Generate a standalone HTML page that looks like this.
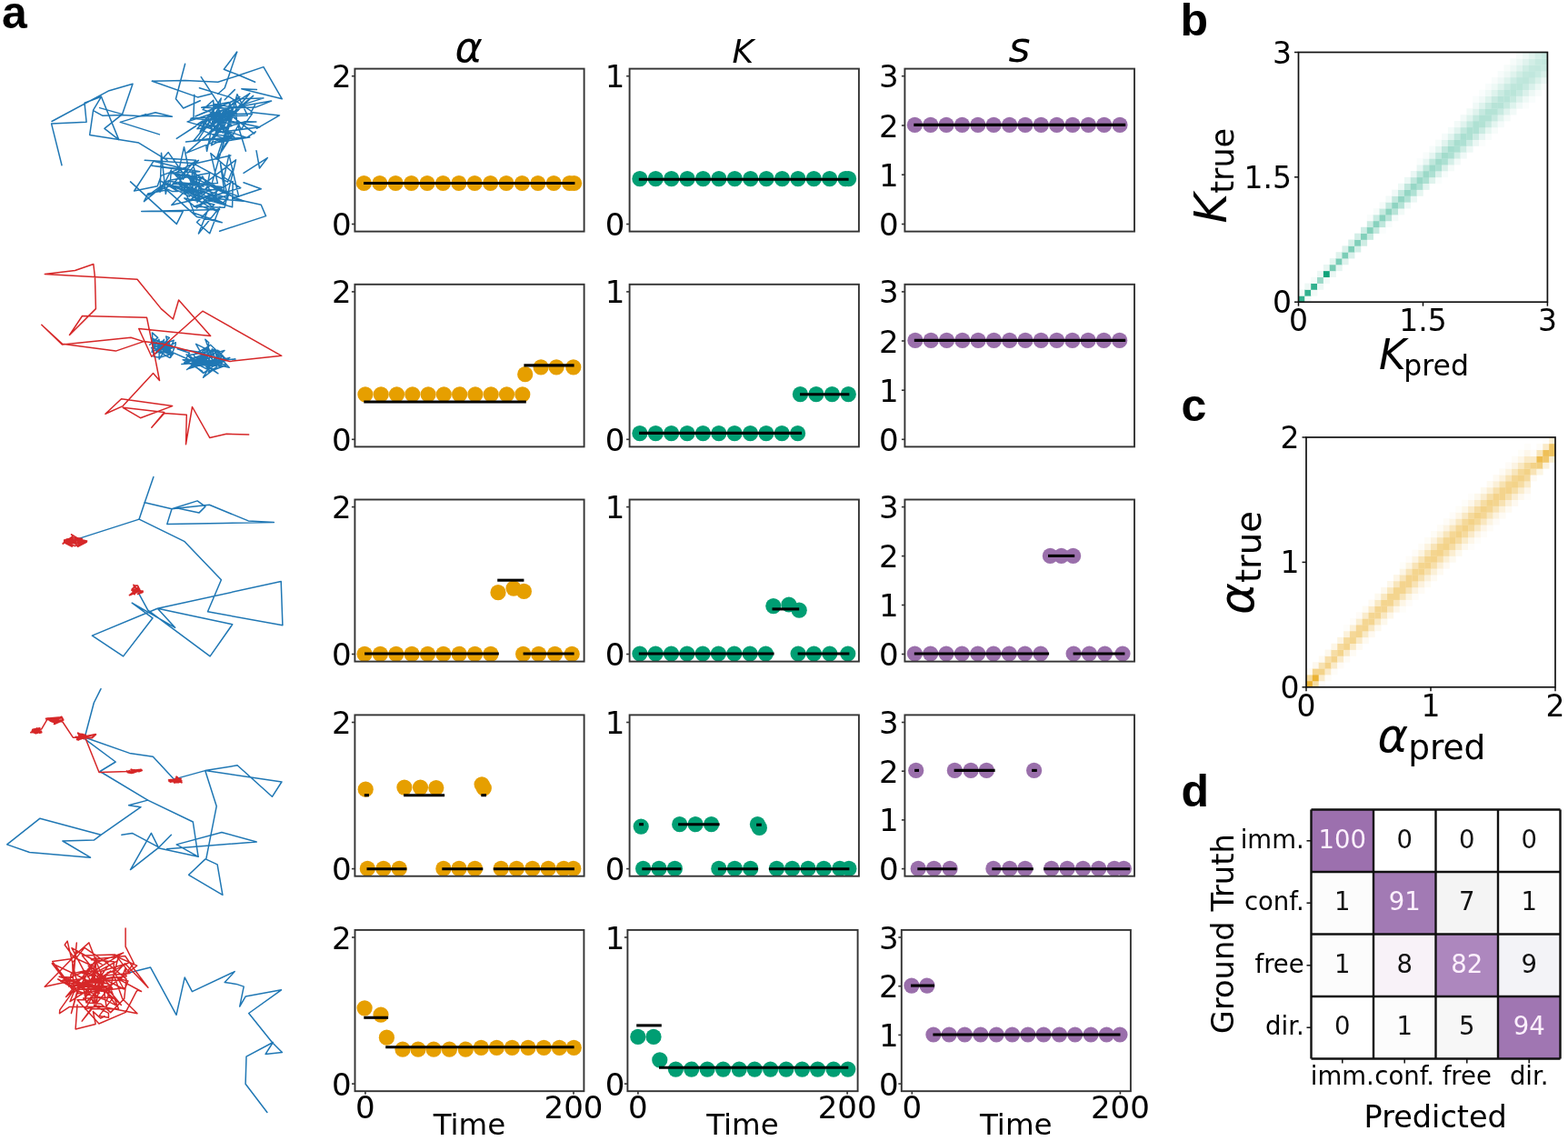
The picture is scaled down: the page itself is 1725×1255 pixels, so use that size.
<!DOCTYPE html>
<html><head><meta charset="utf-8"><title>figure</title>
<style>
html,body{margin:0;padding:0;background:#fff;}
svg{display:block;font-family:"DejaVu Sans","Liberation Sans",sans-serif;}
</style></head>
<body>
<svg width="1725" height="1255" viewBox="0 0 1725 1255">
<rect width="1725" height="1255" fill="#fff"/>
<circle cx="400.4" cy="201.5" r="8.6" fill="#E69F00"/>
<circle cx="417.8" cy="201.5" r="8.6" fill="#E69F00"/>
<circle cx="435.2" cy="201.5" r="8.6" fill="#E69F00"/>
<circle cx="452.6" cy="201.5" r="8.6" fill="#E69F00"/>
<circle cx="470.0" cy="201.5" r="8.6" fill="#E69F00"/>
<circle cx="487.4" cy="201.5" r="8.6" fill="#E69F00"/>
<circle cx="504.8" cy="201.5" r="8.6" fill="#E69F00"/>
<circle cx="522.2" cy="201.5" r="8.6" fill="#E69F00"/>
<circle cx="539.6" cy="201.5" r="8.6" fill="#E69F00"/>
<circle cx="557.0" cy="201.5" r="8.6" fill="#E69F00"/>
<circle cx="574.4" cy="201.5" r="8.6" fill="#E69F00"/>
<circle cx="591.8" cy="201.5" r="8.6" fill="#E69F00"/>
<circle cx="609.2" cy="201.5" r="8.6" fill="#E69F00"/>
<circle cx="626.6" cy="201.5" r="8.6" fill="#E69F00"/>
<circle cx="631.6" cy="201.5" r="8.6" fill="#E69F00"/>
<line x1="400.0" y1="201.5" x2="632.4" y2="201.5" stroke="#000" stroke-width="3.1"/>
<rect x="390.4" y="75.6" width="252.2" height="179.0" fill="none" stroke="#333333" stroke-width="1.9"/>
<line x1="386.9" y1="83.7" x2="390.4" y2="83.7" stroke="#333333" stroke-width="1.6"/>
<text x="386.6" y="96.2" font-size="34" text-anchor="end" >2</text>
<line x1="386.9" y1="246.5" x2="390.4" y2="246.5" stroke="#333333" stroke-width="1.6"/>
<text x="386.6" y="259.0" font-size="34" text-anchor="end" >0</text>
<circle cx="703.9" cy="196.7" r="8.6" fill="#009E73"/>
<circle cx="721.3" cy="196.7" r="8.6" fill="#009E73"/>
<circle cx="738.7" cy="196.7" r="8.6" fill="#009E73"/>
<circle cx="756.1" cy="196.7" r="8.6" fill="#009E73"/>
<circle cx="773.5" cy="196.7" r="8.6" fill="#009E73"/>
<circle cx="790.9" cy="196.7" r="8.6" fill="#009E73"/>
<circle cx="808.3" cy="196.7" r="8.6" fill="#009E73"/>
<circle cx="825.7" cy="196.7" r="8.6" fill="#009E73"/>
<circle cx="843.1" cy="196.7" r="8.6" fill="#009E73"/>
<circle cx="860.5" cy="196.7" r="8.6" fill="#009E73"/>
<circle cx="877.9" cy="196.7" r="8.6" fill="#009E73"/>
<circle cx="895.3" cy="196.7" r="8.6" fill="#009E73"/>
<circle cx="912.7" cy="196.7" r="8.6" fill="#009E73"/>
<circle cx="930.1" cy="196.7" r="8.6" fill="#009E73"/>
<circle cx="933.6" cy="196.7" r="8.6" fill="#009E73"/>
<line x1="702.8" y1="197.2" x2="933.6" y2="197.2" stroke="#000" stroke-width="3.1"/>
<rect x="692.6" y="75.6" width="252.3" height="179.0" fill="none" stroke="#333333" stroke-width="1.9"/>
<line x1="689.1" y1="83.7" x2="692.6" y2="83.7" stroke="#333333" stroke-width="1.6"/>
<text x="687.3" y="96.2" font-size="34" text-anchor="end" >1</text>
<line x1="689.1" y1="246.5" x2="692.6" y2="246.5" stroke="#333333" stroke-width="1.6"/>
<text x="687.3" y="259.0" font-size="34" text-anchor="end" >0</text>
<circle cx="1006.4" cy="137.4" r="8.6" fill="#9a6fab"/>
<circle cx="1023.8" cy="137.4" r="8.6" fill="#9a6fab"/>
<circle cx="1041.1" cy="137.4" r="8.6" fill="#9a6fab"/>
<circle cx="1058.5" cy="137.4" r="8.6" fill="#9a6fab"/>
<circle cx="1075.8" cy="137.4" r="8.6" fill="#9a6fab"/>
<circle cx="1093.2" cy="137.4" r="8.6" fill="#9a6fab"/>
<circle cx="1110.6" cy="137.4" r="8.6" fill="#9a6fab"/>
<circle cx="1127.9" cy="137.4" r="8.6" fill="#9a6fab"/>
<circle cx="1145.3" cy="137.4" r="8.6" fill="#9a6fab"/>
<circle cx="1162.6" cy="137.4" r="8.6" fill="#9a6fab"/>
<circle cx="1180.0" cy="137.4" r="8.6" fill="#9a6fab"/>
<circle cx="1197.3" cy="137.4" r="8.6" fill="#9a6fab"/>
<circle cx="1214.7" cy="137.4" r="8.6" fill="#9a6fab"/>
<circle cx="1232.0" cy="137.4" r="8.6" fill="#9a6fab"/>
<line x1="1005.3" y1="137.4" x2="1238.2" y2="137.4" stroke="#000" stroke-width="3.1"/>
<rect x="995.4" y="75.6" width="252.6" height="179.0" fill="none" stroke="#333333" stroke-width="1.9"/>
<line x1="991.9" y1="83.7" x2="995.4" y2="83.7" stroke="#333333" stroke-width="1.6"/>
<text x="988.6" y="96.2" font-size="34" text-anchor="end" >3</text>
<line x1="991.9" y1="138.0" x2="995.4" y2="138.0" stroke="#333333" stroke-width="1.6"/>
<text x="988.6" y="150.5" font-size="34" text-anchor="end" >2</text>
<line x1="991.9" y1="192.2" x2="995.4" y2="192.2" stroke="#333333" stroke-width="1.6"/>
<text x="988.6" y="204.7" font-size="34" text-anchor="end" >1</text>
<line x1="991.9" y1="246.5" x2="995.4" y2="246.5" stroke="#333333" stroke-width="1.6"/>
<text x="988.6" y="259.0" font-size="34" text-anchor="end" >0</text>
<circle cx="401.9" cy="433.9" r="8.6" fill="#E69F00"/>
<circle cx="419.2" cy="433.9" r="8.6" fill="#E69F00"/>
<circle cx="436.5" cy="433.9" r="8.6" fill="#E69F00"/>
<circle cx="453.8" cy="433.9" r="8.6" fill="#E69F00"/>
<circle cx="471.1" cy="433.9" r="8.6" fill="#E69F00"/>
<circle cx="488.3" cy="433.9" r="8.6" fill="#E69F00"/>
<circle cx="505.6" cy="433.9" r="8.6" fill="#E69F00"/>
<circle cx="522.9" cy="433.9" r="8.6" fill="#E69F00"/>
<circle cx="540.2" cy="433.9" r="8.6" fill="#E69F00"/>
<circle cx="557.5" cy="433.9" r="8.6" fill="#E69F00"/>
<circle cx="574.8" cy="433.9" r="8.6" fill="#E69F00"/>
<circle cx="577.7" cy="411.7" r="8.6" fill="#E69F00"/>
<circle cx="595.1" cy="403.9" r="8.6" fill="#E69F00"/>
<circle cx="612.1" cy="403.9" r="8.6" fill="#E69F00"/>
<circle cx="630.8" cy="403.9" r="8.6" fill="#E69F00"/>
<line x1="400.3" y1="442.0" x2="578.8" y2="442.0" stroke="#000" stroke-width="3.1"/>
<line x1="576.4" y1="401.9" x2="631.6" y2="401.9" stroke="#000" stroke-width="3.1"/>
<rect x="390.4" y="312.8" width="252.2" height="178.6" fill="none" stroke="#333333" stroke-width="1.9"/>
<line x1="386.9" y1="320.9" x2="390.4" y2="320.9" stroke="#333333" stroke-width="1.6"/>
<text x="386.6" y="333.4" font-size="34" text-anchor="end" >2</text>
<line x1="386.9" y1="483.3" x2="390.4" y2="483.3" stroke="#333333" stroke-width="1.6"/>
<text x="386.6" y="495.8" font-size="34" text-anchor="end" >0</text>
<circle cx="703.9" cy="476.7" r="8.6" fill="#009E73"/>
<circle cx="721.3" cy="476.7" r="8.6" fill="#009E73"/>
<circle cx="738.6" cy="476.7" r="8.6" fill="#009E73"/>
<circle cx="756.0" cy="476.7" r="8.6" fill="#009E73"/>
<circle cx="773.4" cy="476.7" r="8.6" fill="#009E73"/>
<circle cx="790.8" cy="476.7" r="8.6" fill="#009E73"/>
<circle cx="808.1" cy="476.7" r="8.6" fill="#009E73"/>
<circle cx="825.5" cy="476.7" r="8.6" fill="#009E73"/>
<circle cx="842.9" cy="476.7" r="8.6" fill="#009E73"/>
<circle cx="860.2" cy="476.7" r="8.6" fill="#009E73"/>
<circle cx="877.6" cy="476.7" r="8.6" fill="#009E73"/>
<circle cx="880.4" cy="433.7" r="8.6" fill="#009E73"/>
<circle cx="897.9" cy="433.7" r="8.6" fill="#009E73"/>
<circle cx="915.4" cy="433.7" r="8.6" fill="#009E73"/>
<circle cx="933.3" cy="433.7" r="8.6" fill="#009E73"/>
<line x1="703.1" y1="476.4" x2="882.0" y2="476.4" stroke="#000" stroke-width="3.1"/>
<line x1="880.0" y1="433.7" x2="934.4" y2="433.7" stroke="#000" stroke-width="3.1"/>
<rect x="692.6" y="312.8" width="252.3" height="178.6" fill="none" stroke="#333333" stroke-width="1.9"/>
<line x1="689.1" y1="320.9" x2="692.6" y2="320.9" stroke="#333333" stroke-width="1.6"/>
<text x="687.3" y="333.4" font-size="34" text-anchor="end" >1</text>
<line x1="689.1" y1="483.3" x2="692.6" y2="483.3" stroke="#333333" stroke-width="1.6"/>
<text x="687.3" y="495.8" font-size="34" text-anchor="end" >0</text>
<circle cx="1006.9" cy="374.4" r="8.6" fill="#9a6fab"/>
<circle cx="1024.2" cy="374.4" r="8.6" fill="#9a6fab"/>
<circle cx="1041.5" cy="374.4" r="8.6" fill="#9a6fab"/>
<circle cx="1058.8" cy="374.4" r="8.6" fill="#9a6fab"/>
<circle cx="1076.1" cy="374.4" r="8.6" fill="#9a6fab"/>
<circle cx="1093.4" cy="374.4" r="8.6" fill="#9a6fab"/>
<circle cx="1110.7" cy="374.4" r="8.6" fill="#9a6fab"/>
<circle cx="1128.0" cy="374.4" r="8.6" fill="#9a6fab"/>
<circle cx="1145.3" cy="374.4" r="8.6" fill="#9a6fab"/>
<circle cx="1162.6" cy="374.4" r="8.6" fill="#9a6fab"/>
<circle cx="1179.8" cy="374.4" r="8.6" fill="#9a6fab"/>
<circle cx="1197.1" cy="374.4" r="8.6" fill="#9a6fab"/>
<circle cx="1214.4" cy="374.4" r="8.6" fill="#9a6fab"/>
<circle cx="1231.7" cy="374.4" r="8.6" fill="#9a6fab"/>
<line x1="1005.8" y1="374.4" x2="1238.2" y2="374.4" stroke="#000" stroke-width="3.1"/>
<rect x="995.4" y="312.8" width="252.6" height="178.6" fill="none" stroke="#333333" stroke-width="1.9"/>
<line x1="991.9" y1="320.9" x2="995.4" y2="320.9" stroke="#333333" stroke-width="1.6"/>
<text x="988.6" y="333.4" font-size="34" text-anchor="end" >3</text>
<line x1="991.9" y1="375.0" x2="995.4" y2="375.0" stroke="#333333" stroke-width="1.6"/>
<text x="988.6" y="387.5" font-size="34" text-anchor="end" >2</text>
<line x1="991.9" y1="429.2" x2="995.4" y2="429.2" stroke="#333333" stroke-width="1.6"/>
<text x="988.6" y="441.7" font-size="34" text-anchor="end" >1</text>
<line x1="991.9" y1="483.3" x2="995.4" y2="483.3" stroke="#333333" stroke-width="1.6"/>
<text x="988.6" y="495.8" font-size="34" text-anchor="end" >0</text>
<circle cx="401.1" cy="719.4" r="8.6" fill="#E69F00"/>
<circle cx="418.4" cy="719.4" r="8.6" fill="#E69F00"/>
<circle cx="435.8" cy="719.4" r="8.6" fill="#E69F00"/>
<circle cx="453.1" cy="719.4" r="8.6" fill="#E69F00"/>
<circle cx="470.5" cy="719.4" r="8.6" fill="#E69F00"/>
<circle cx="487.8" cy="719.4" r="8.6" fill="#E69F00"/>
<circle cx="505.2" cy="719.4" r="8.6" fill="#E69F00"/>
<circle cx="522.5" cy="719.4" r="8.6" fill="#E69F00"/>
<circle cx="539.9" cy="719.4" r="8.6" fill="#E69F00"/>
<circle cx="548.0" cy="651.7" r="8.6" fill="#E69F00"/>
<circle cx="565.0" cy="647.1" r="8.6" fill="#E69F00"/>
<circle cx="576.4" cy="650.4" r="8.6" fill="#E69F00"/>
<circle cx="575.6" cy="719.4" r="8.6" fill="#E69F00"/>
<circle cx="592.6" cy="719.4" r="8.6" fill="#E69F00"/>
<circle cx="610.5" cy="719.4" r="8.6" fill="#E69F00"/>
<circle cx="629.2" cy="719.4" r="8.6" fill="#E69F00"/>
<line x1="401.1" y1="719.0" x2="548.8" y2="719.0" stroke="#000" stroke-width="3.1"/>
<line x1="547.2" y1="638.2" x2="576.4" y2="638.2" stroke="#000" stroke-width="3.1"/>
<line x1="575.6" y1="719.0" x2="631.6" y2="719.0" stroke="#000" stroke-width="3.1"/>
<rect x="390.4" y="549.5" width="252.2" height="178.1" fill="none" stroke="#333333" stroke-width="1.9"/>
<line x1="386.9" y1="557.6" x2="390.4" y2="557.6" stroke="#333333" stroke-width="1.6"/>
<text x="386.6" y="570.1" font-size="34" text-anchor="end" >2</text>
<line x1="386.9" y1="719.5" x2="390.4" y2="719.5" stroke="#333333" stroke-width="1.6"/>
<text x="386.6" y="732.0" font-size="34" text-anchor="end" >0</text>
<circle cx="703.9" cy="719.0" r="8.6" fill="#009E73"/>
<circle cx="721.2" cy="719.0" r="8.6" fill="#009E73"/>
<circle cx="738.5" cy="719.0" r="8.6" fill="#009E73"/>
<circle cx="755.8" cy="719.0" r="8.6" fill="#009E73"/>
<circle cx="773.1" cy="719.0" r="8.6" fill="#009E73"/>
<circle cx="790.4" cy="719.0" r="8.6" fill="#009E73"/>
<circle cx="807.8" cy="719.0" r="8.6" fill="#009E73"/>
<circle cx="825.1" cy="719.0" r="8.6" fill="#009E73"/>
<circle cx="842.4" cy="719.0" r="8.6" fill="#009E73"/>
<circle cx="850.8" cy="666.6" r="8.6" fill="#009E73"/>
<circle cx="867.9" cy="665.0" r="8.6" fill="#009E73"/>
<circle cx="879.2" cy="671.2" r="8.6" fill="#009E73"/>
<circle cx="878.1" cy="719.0" r="8.6" fill="#009E73"/>
<circle cx="895.4" cy="719.0" r="8.6" fill="#009E73"/>
<circle cx="912.8" cy="719.0" r="8.6" fill="#009E73"/>
<circle cx="932.8" cy="719.0" r="8.6" fill="#009E73"/>
<line x1="702.8" y1="719.0" x2="851.6" y2="719.0" stroke="#000" stroke-width="3.1"/>
<line x1="849.5" y1="669.9" x2="879.2" y2="669.9" stroke="#000" stroke-width="3.1"/>
<line x1="877.6" y1="719.0" x2="934.4" y2="719.0" stroke="#000" stroke-width="3.1"/>
<rect x="692.6" y="549.5" width="252.3" height="178.1" fill="none" stroke="#333333" stroke-width="1.9"/>
<line x1="689.1" y1="557.6" x2="692.6" y2="557.6" stroke="#333333" stroke-width="1.6"/>
<text x="687.3" y="570.1" font-size="34" text-anchor="end" >1</text>
<line x1="689.1" y1="719.5" x2="692.6" y2="719.5" stroke="#333333" stroke-width="1.6"/>
<text x="687.3" y="732.0" font-size="34" text-anchor="end" >0</text>
<circle cx="1006.4" cy="719.0" r="8.6" fill="#9a6fab"/>
<circle cx="1023.7" cy="719.0" r="8.6" fill="#9a6fab"/>
<circle cx="1041.0" cy="719.0" r="8.6" fill="#9a6fab"/>
<circle cx="1058.3" cy="719.0" r="8.6" fill="#9a6fab"/>
<circle cx="1075.7" cy="719.0" r="8.6" fill="#9a6fab"/>
<circle cx="1093.0" cy="719.0" r="8.6" fill="#9a6fab"/>
<circle cx="1110.3" cy="719.0" r="8.6" fill="#9a6fab"/>
<circle cx="1127.6" cy="719.0" r="8.6" fill="#9a6fab"/>
<circle cx="1144.9" cy="719.0" r="8.6" fill="#9a6fab"/>
<circle cx="1155.4" cy="611.4" r="8.6" fill="#9a6fab"/>
<circle cx="1167.6" cy="611.4" r="8.6" fill="#9a6fab"/>
<circle cx="1180.6" cy="611.4" r="8.6" fill="#9a6fab"/>
<circle cx="1181.1" cy="719.0" r="8.6" fill="#9a6fab"/>
<circle cx="1198.4" cy="719.0" r="8.6" fill="#9a6fab"/>
<circle cx="1215.5" cy="719.0" r="8.6" fill="#9a6fab"/>
<circle cx="1235.0" cy="719.0" r="8.6" fill="#9a6fab"/>
<line x1="1005.8" y1="719.0" x2="1154.1" y2="719.0" stroke="#000" stroke-width="3.1"/>
<line x1="1153.0" y1="611.4" x2="1182.2" y2="611.4" stroke="#000" stroke-width="3.1"/>
<line x1="1180.6" y1="719.0" x2="1237.4" y2="719.0" stroke="#000" stroke-width="3.1"/>
<rect x="995.4" y="549.5" width="252.6" height="178.1" fill="none" stroke="#333333" stroke-width="1.9"/>
<line x1="991.9" y1="557.6" x2="995.4" y2="557.6" stroke="#333333" stroke-width="1.6"/>
<text x="988.6" y="570.1" font-size="34" text-anchor="end" >3</text>
<line x1="991.9" y1="611.6" x2="995.4" y2="611.6" stroke="#333333" stroke-width="1.6"/>
<text x="988.6" y="624.1" font-size="34" text-anchor="end" >2</text>
<line x1="991.9" y1="665.5" x2="995.4" y2="665.5" stroke="#333333" stroke-width="1.6"/>
<text x="988.6" y="678.0" font-size="34" text-anchor="end" >1</text>
<line x1="991.9" y1="719.5" x2="995.4" y2="719.5" stroke="#333333" stroke-width="1.6"/>
<text x="988.6" y="732.0" font-size="34" text-anchor="end" >0</text>
<circle cx="402.2" cy="868.2" r="8.6" fill="#E69F00"/>
<circle cx="444.9" cy="866.1" r="8.6" fill="#E69F00"/>
<circle cx="462.5" cy="866.1" r="8.6" fill="#E69F00"/>
<circle cx="479.8" cy="866.6" r="8.6" fill="#E69F00"/>
<circle cx="530.1" cy="862.8" r="8.6" fill="#E69F00"/>
<circle cx="532.3" cy="866.9" r="8.6" fill="#E69F00"/>
<circle cx="404.3" cy="955.4" r="8.6" fill="#E69F00"/>
<circle cx="421.9" cy="955.4" r="8.6" fill="#E69F00"/>
<circle cx="439.2" cy="955.4" r="8.6" fill="#E69F00"/>
<circle cx="487.9" cy="955.4" r="8.6" fill="#E69F00"/>
<circle cx="505.0" cy="955.4" r="8.6" fill="#E69F00"/>
<circle cx="522.5" cy="955.4" r="8.6" fill="#E69F00"/>
<circle cx="551.2" cy="955.4" r="8.6" fill="#E69F00"/>
<circle cx="568.3" cy="955.4" r="8.6" fill="#E69F00"/>
<circle cx="585.8" cy="955.4" r="8.6" fill="#E69F00"/>
<circle cx="603.2" cy="955.4" r="8.6" fill="#E69F00"/>
<circle cx="620.2" cy="955.4" r="8.6" fill="#E69F00"/>
<circle cx="630.8" cy="955.4" r="8.6" fill="#E69F00"/>
<line x1="400.8" y1="874.7" x2="406.0" y2="874.7" stroke="#000" stroke-width="3.1"/>
<line x1="444.1" y1="874.7" x2="489.1" y2="874.7" stroke="#000" stroke-width="3.1"/>
<line x1="529.3" y1="874.7" x2="535.0" y2="874.7" stroke="#000" stroke-width="3.1"/>
<line x1="403.5" y1="955.8" x2="447.4" y2="955.8" stroke="#000" stroke-width="3.1"/>
<line x1="486.3" y1="955.8" x2="531.3" y2="955.8" stroke="#000" stroke-width="3.1"/>
<line x1="542.8" y1="955.8" x2="631.9" y2="955.8" stroke="#000" stroke-width="3.1"/>
<rect x="390.4" y="786.4" width="252.2" height="177.3" fill="none" stroke="#333333" stroke-width="1.9"/>
<line x1="386.9" y1="794.5" x2="390.4" y2="794.5" stroke="#333333" stroke-width="1.6"/>
<text x="386.6" y="807.0" font-size="34" text-anchor="end" >2</text>
<line x1="386.9" y1="955.6" x2="390.4" y2="955.6" stroke="#333333" stroke-width="1.6"/>
<text x="386.6" y="968.1" font-size="34" text-anchor="end" >0</text>
<circle cx="705.2" cy="909.1" r="8.6" fill="#009E73"/>
<circle cx="747.7" cy="906.7" r="8.6" fill="#009E73"/>
<circle cx="765.1" cy="906.7" r="8.6" fill="#009E73"/>
<circle cx="782.6" cy="906.7" r="8.6" fill="#009E73"/>
<circle cx="833.4" cy="906.7" r="8.6" fill="#009E73"/>
<circle cx="835.4" cy="910.4" r="8.6" fill="#009E73"/>
<circle cx="707.6" cy="955.4" r="8.6" fill="#009E73"/>
<circle cx="725.0" cy="955.4" r="8.6" fill="#009E73"/>
<circle cx="742.4" cy="955.4" r="8.6" fill="#009E73"/>
<circle cx="790.8" cy="955.4" r="8.6" fill="#009E73"/>
<circle cx="808.3" cy="955.4" r="8.6" fill="#009E73"/>
<circle cx="825.7" cy="955.4" r="8.6" fill="#009E73"/>
<circle cx="854.4" cy="955.4" r="8.6" fill="#009E73"/>
<circle cx="871.6" cy="955.4" r="8.6" fill="#009E73"/>
<circle cx="889.0" cy="955.4" r="8.6" fill="#009E73"/>
<circle cx="906.3" cy="955.4" r="8.6" fill="#009E73"/>
<circle cx="923.9" cy="955.4" r="8.6" fill="#009E73"/>
<circle cx="933.9" cy="955.4" r="8.6" fill="#009E73"/>
<line x1="703.1" y1="906.7" x2="708.0" y2="906.7" stroke="#000" stroke-width="3.1"/>
<line x1="746.1" y1="906.7" x2="791.6" y2="906.7" stroke="#000" stroke-width="3.1"/>
<line x1="832.1" y1="907.2" x2="837.8" y2="907.2" stroke="#000" stroke-width="3.1"/>
<line x1="706.3" y1="955.8" x2="749.4" y2="955.8" stroke="#000" stroke-width="3.1"/>
<line x1="789.9" y1="955.8" x2="833.8" y2="955.8" stroke="#000" stroke-width="3.1"/>
<line x1="845.9" y1="955.8" x2="934.4" y2="955.8" stroke="#000" stroke-width="3.1"/>
<rect x="692.6" y="786.4" width="252.3" height="177.3" fill="none" stroke="#333333" stroke-width="1.9"/>
<line x1="689.1" y1="794.5" x2="692.6" y2="794.5" stroke="#333333" stroke-width="1.6"/>
<text x="687.3" y="807.0" font-size="34" text-anchor="end" >1</text>
<line x1="689.1" y1="955.6" x2="692.6" y2="955.6" stroke="#333333" stroke-width="1.6"/>
<text x="687.3" y="968.1" font-size="34" text-anchor="end" >0</text>
<circle cx="1007.7" cy="847.4" r="8.6" fill="#9a6fab"/>
<circle cx="1050.3" cy="847.4" r="8.6" fill="#9a6fab"/>
<circle cx="1068.1" cy="847.4" r="8.6" fill="#9a6fab"/>
<circle cx="1085.3" cy="847.4" r="8.6" fill="#9a6fab"/>
<circle cx="1137.6" cy="847.4" r="8.6" fill="#9a6fab"/>
<circle cx="1010.2" cy="955.4" r="8.6" fill="#9a6fab"/>
<circle cx="1027.5" cy="955.4" r="8.6" fill="#9a6fab"/>
<circle cx="1045.1" cy="955.4" r="8.6" fill="#9a6fab"/>
<circle cx="1092.9" cy="955.4" r="8.6" fill="#9a6fab"/>
<circle cx="1110.8" cy="955.4" r="8.6" fill="#9a6fab"/>
<circle cx="1127.8" cy="955.4" r="8.6" fill="#9a6fab"/>
<circle cx="1156.7" cy="955.4" r="8.6" fill="#9a6fab"/>
<circle cx="1174.1" cy="955.4" r="8.6" fill="#9a6fab"/>
<circle cx="1191.5" cy="955.4" r="8.6" fill="#9a6fab"/>
<circle cx="1208.7" cy="955.4" r="8.6" fill="#9a6fab"/>
<circle cx="1226.0" cy="955.4" r="8.6" fill="#9a6fab"/>
<circle cx="1236.3" cy="955.4" r="8.6" fill="#9a6fab"/>
<line x1="1006.1" y1="847.4" x2="1011.0" y2="847.4" stroke="#000" stroke-width="3.1"/>
<line x1="1049.6" y1="847.4" x2="1094.6" y2="847.4" stroke="#000" stroke-width="3.1"/>
<line x1="1135.1" y1="847.4" x2="1140.8" y2="847.4" stroke="#000" stroke-width="3.1"/>
<line x1="1009.3" y1="955.8" x2="1052.4" y2="955.8" stroke="#000" stroke-width="3.1"/>
<line x1="1091.3" y1="955.8" x2="1136.8" y2="955.8" stroke="#000" stroke-width="3.1"/>
<line x1="1148.1" y1="955.8" x2="1243.1" y2="955.8" stroke="#000" stroke-width="3.1"/>
<rect x="995.4" y="786.4" width="252.6" height="177.3" fill="none" stroke="#333333" stroke-width="1.9"/>
<line x1="991.9" y1="794.5" x2="995.4" y2="794.5" stroke="#333333" stroke-width="1.6"/>
<text x="988.6" y="807.0" font-size="34" text-anchor="end" >3</text>
<line x1="991.9" y1="848.2" x2="995.4" y2="848.2" stroke="#333333" stroke-width="1.6"/>
<text x="988.6" y="860.7" font-size="34" text-anchor="end" >2</text>
<line x1="991.9" y1="901.9" x2="995.4" y2="901.9" stroke="#333333" stroke-width="1.6"/>
<text x="988.6" y="914.4" font-size="34" text-anchor="end" >1</text>
<line x1="991.9" y1="955.6" x2="995.4" y2="955.6" stroke="#333333" stroke-width="1.6"/>
<text x="988.6" y="968.1" font-size="34" text-anchor="end" >0</text>
<circle cx="401.1" cy="1108.8" r="8.6" fill="#E69F00"/>
<circle cx="419.0" cy="1116.1" r="8.6" fill="#E69F00"/>
<circle cx="425.4" cy="1141.2" r="8.6" fill="#E69F00"/>
<circle cx="443.0" cy="1154.2" r="8.6" fill="#E69F00"/>
<circle cx="460.0" cy="1154.2" r="8.6" fill="#E69F00"/>
<circle cx="477.1" cy="1154.2" r="8.6" fill="#E69F00"/>
<circle cx="494.4" cy="1154.2" r="8.6" fill="#E69F00"/>
<circle cx="512.3" cy="1154.2" r="8.6" fill="#E69F00"/>
<circle cx="529.3" cy="1152.3" r="8.6" fill="#E69F00"/>
<circle cx="546.4" cy="1152.3" r="8.6" fill="#E69F00"/>
<circle cx="563.4" cy="1152.3" r="8.6" fill="#E69F00"/>
<circle cx="581.0" cy="1152.3" r="8.6" fill="#E69F00"/>
<circle cx="598.3" cy="1152.3" r="8.6" fill="#E69F00"/>
<circle cx="615.4" cy="1152.3" r="8.6" fill="#E69F00"/>
<circle cx="631.3" cy="1152.3" r="8.6" fill="#E69F00"/>
<line x1="400.3" y1="1119.3" x2="427.1" y2="1119.3" stroke="#000" stroke-width="3.1"/>
<line x1="424.2" y1="1151.8" x2="631.6" y2="1151.8" stroke="#000" stroke-width="3.1"/>
<rect x="390.5" y="1022.9" width="251.9" height="177.3" fill="none" stroke="#333333" stroke-width="1.9"/>
<line x1="387.0" y1="1031.0" x2="390.5" y2="1031.0" stroke="#333333" stroke-width="1.6"/>
<text x="386.6" y="1043.5" font-size="34" text-anchor="end" >2</text>
<line x1="387.0" y1="1192.1" x2="390.5" y2="1192.1" stroke="#333333" stroke-width="1.6"/>
<text x="386.6" y="1204.6" font-size="34" text-anchor="end" >0</text>
<line x1="401.9" y1="1200.2" x2="401.9" y2="1203.7" stroke="#333333" stroke-width="1.6"/>
<text x="401.9" y="1230.2" font-size="34" text-anchor="middle" >0</text>
<line x1="631.0" y1="1200.2" x2="631.0" y2="1203.7" stroke="#333333" stroke-width="1.6"/>
<text x="631.0" y="1230.2" font-size="34" text-anchor="middle" >200</text>
<text x="516.5" y="1247.8" font-size="32.5" text-anchor="middle" >Time</text>
<circle cx="701.8" cy="1140.4" r="8.6" fill="#009E73"/>
<circle cx="719.0" cy="1140.4" r="8.6" fill="#009E73"/>
<circle cx="725.8" cy="1165.9" r="8.6" fill="#009E73"/>
<circle cx="743.4" cy="1176.1" r="8.6" fill="#009E73"/>
<circle cx="760.7" cy="1176.1" r="8.6" fill="#009E73"/>
<circle cx="778.1" cy="1176.1" r="8.6" fill="#009E73"/>
<circle cx="795.6" cy="1176.1" r="8.6" fill="#009E73"/>
<circle cx="813.2" cy="1176.1" r="8.6" fill="#009E73"/>
<circle cx="830.2" cy="1176.1" r="8.6" fill="#009E73"/>
<circle cx="847.6" cy="1176.1" r="8.6" fill="#009E73"/>
<circle cx="864.9" cy="1176.1" r="8.6" fill="#009E73"/>
<circle cx="882.5" cy="1176.1" r="8.6" fill="#009E73"/>
<circle cx="899.5" cy="1176.1" r="8.6" fill="#009E73"/>
<circle cx="917.0" cy="1176.1" r="8.6" fill="#009E73"/>
<circle cx="932.8" cy="1176.1" r="8.6" fill="#009E73"/>
<line x1="700.2" y1="1127.9" x2="727.8" y2="1127.9" stroke="#000" stroke-width="3.1"/>
<line x1="725.0" y1="1174.2" x2="933.3" y2="1174.2" stroke="#000" stroke-width="3.1"/>
<rect x="690.4" y="1022.9" width="253.2" height="177.3" fill="none" stroke="#333333" stroke-width="1.9"/>
<line x1="686.9" y1="1031.0" x2="690.4" y2="1031.0" stroke="#333333" stroke-width="1.6"/>
<text x="687.3" y="1043.5" font-size="34" text-anchor="end" >1</text>
<line x1="686.9" y1="1192.1" x2="690.4" y2="1192.1" stroke="#333333" stroke-width="1.6"/>
<text x="687.3" y="1204.6" font-size="34" text-anchor="end" >0</text>
<line x1="701.9" y1="1200.2" x2="701.9" y2="1203.7" stroke="#333333" stroke-width="1.6"/>
<text x="701.9" y="1230.2" font-size="34" text-anchor="middle" >0</text>
<line x1="932.1" y1="1200.2" x2="932.1" y2="1203.7" stroke="#333333" stroke-width="1.6"/>
<text x="932.1" y="1230.2" font-size="34" text-anchor="middle" >200</text>
<text x="817.0" y="1247.8" font-size="32.5" text-anchor="middle" >Time</text>
<circle cx="1002.9" cy="1084.1" r="8.6" fill="#9a6fab"/>
<circle cx="1019.9" cy="1084.1" r="8.6" fill="#9a6fab"/>
<circle cx="1026.9" cy="1138.0" r="8.6" fill="#9a6fab"/>
<circle cx="1044.2" cy="1138.0" r="8.6" fill="#9a6fab"/>
<circle cx="1061.3" cy="1138.0" r="8.6" fill="#9a6fab"/>
<circle cx="1078.8" cy="1138.0" r="8.6" fill="#9a6fab"/>
<circle cx="1096.2" cy="1138.0" r="8.6" fill="#9a6fab"/>
<circle cx="1113.6" cy="1138.0" r="8.6" fill="#9a6fab"/>
<circle cx="1130.8" cy="1138.0" r="8.6" fill="#9a6fab"/>
<circle cx="1148.1" cy="1138.0" r="8.6" fill="#9a6fab"/>
<circle cx="1165.5" cy="1138.0" r="8.6" fill="#9a6fab"/>
<circle cx="1182.7" cy="1138.0" r="8.6" fill="#9a6fab"/>
<circle cx="1200.1" cy="1138.0" r="8.6" fill="#9a6fab"/>
<circle cx="1217.4" cy="1138.0" r="8.6" fill="#9a6fab"/>
<circle cx="1232.0" cy="1138.0" r="8.6" fill="#9a6fab"/>
<line x1="1002.0" y1="1084.1" x2="1028.0" y2="1084.1" stroke="#000" stroke-width="3.1"/>
<line x1="1026.4" y1="1138.0" x2="1232.5" y2="1138.0" stroke="#000" stroke-width="3.1"/>
<rect x="991.8" y="1022.9" width="252.1" height="177.3" fill="none" stroke="#333333" stroke-width="1.9"/>
<line x1="988.3" y1="1031.0" x2="991.8" y2="1031.0" stroke="#333333" stroke-width="1.6"/>
<text x="988.6" y="1043.5" font-size="34" text-anchor="end" >3</text>
<line x1="988.3" y1="1084.7" x2="991.8" y2="1084.7" stroke="#333333" stroke-width="1.6"/>
<text x="988.6" y="1097.2" font-size="34" text-anchor="end" >2</text>
<line x1="988.3" y1="1138.4" x2="991.8" y2="1138.4" stroke="#333333" stroke-width="1.6"/>
<text x="988.6" y="1150.9" font-size="34" text-anchor="end" >1</text>
<line x1="988.3" y1="1192.1" x2="991.8" y2="1192.1" stroke="#333333" stroke-width="1.6"/>
<text x="988.6" y="1204.6" font-size="34" text-anchor="end" >0</text>
<line x1="1003.3" y1="1200.2" x2="1003.3" y2="1203.7" stroke="#333333" stroke-width="1.6"/>
<text x="1003.3" y="1230.2" font-size="34" text-anchor="middle" >0</text>
<line x1="1232.4" y1="1200.2" x2="1232.4" y2="1203.7" stroke="#333333" stroke-width="1.6"/>
<text x="1232.4" y="1230.2" font-size="34" text-anchor="middle" >200</text>
<text x="1117.8" y="1247.8" font-size="32.5" text-anchor="middle" >Time</text>
<text x="515.6" y="68.0" font-size="46" text-anchor="middle" font-style="italic">α</text>
<text x="817.3" y="68.5" font-size="36" text-anchor="middle" font-style="italic">K</text>
<text x="1121.5" y="68.3" font-size="46" text-anchor="middle" font-style="italic">s</text>
<text x="2.0" y="31.0" font-size="50" text-anchor="start" font-weight="bold" font-family="Liberation Sans, sans-serif">a</text>
<text x="1298.5" y="39.2" font-size="50" text-anchor="start" font-weight="bold" font-family="Liberation Sans, sans-serif">b</text>
<text x="1299.5" y="463.3" font-size="50" text-anchor="start" font-weight="bold" font-family="Liberation Sans, sans-serif">c</text>
<text x="1299.5" y="886.6" font-size="50" text-anchor="start" font-weight="bold" font-family="Liberation Sans, sans-serif">d</text>
<rect x="1428.50" y="325.33" width="7.15" height="7.17" fill="#33b18f"/>
<rect x="1435.35" y="325.33" width="7.15" height="7.17" fill="#f3faf8"/>
<rect x="1428.50" y="318.46" width="7.15" height="7.17" fill="#f1faf7"/>
<rect x="1435.35" y="318.46" width="7.15" height="7.17" fill="#33b18f"/>
<rect x="1442.19" y="318.46" width="7.15" height="7.17" fill="#f1faf7"/>
<rect x="1435.35" y="311.60" width="7.15" height="7.17" fill="#edf8f5"/>
<rect x="1442.19" y="311.60" width="7.15" height="7.17" fill="#33b18f"/>
<rect x="1449.04" y="311.60" width="7.15" height="7.17" fill="#edf8f5"/>
<rect x="1442.19" y="304.73" width="7.15" height="7.17" fill="#f4fbf9"/>
<rect x="1449.04" y="304.73" width="7.15" height="7.17" fill="#99d8c7"/>
<rect x="1455.89" y="304.73" width="7.15" height="7.17" fill="#f3fbf9"/>
<rect x="1449.04" y="297.86" width="7.15" height="7.17" fill="#ecf8f5"/>
<rect x="1455.89" y="297.86" width="7.15" height="7.17" fill="#0da37a"/>
<rect x="1462.74" y="297.86" width="7.15" height="7.17" fill="#ebf7f4"/>
<rect x="1455.89" y="291.00" width="7.15" height="7.17" fill="#e8f6f2"/>
<rect x="1462.74" y="291.00" width="7.15" height="7.17" fill="#77cbb4"/>
<rect x="1469.59" y="291.00" width="7.15" height="7.17" fill="#e6f5f1"/>
<rect x="1462.74" y="284.13" width="7.15" height="7.17" fill="#e4f5f0"/>
<rect x="1469.59" y="284.13" width="7.15" height="7.17" fill="#79ccb6"/>
<rect x="1476.43" y="284.13" width="7.15" height="7.17" fill="#e0f3ee"/>
<rect x="1469.59" y="277.26" width="7.15" height="7.17" fill="#dff3ed"/>
<rect x="1476.43" y="277.26" width="7.15" height="7.17" fill="#7ccdb7"/>
<rect x="1483.28" y="277.26" width="7.15" height="7.17" fill="#daf1eb"/>
<rect x="1476.43" y="270.39" width="7.15" height="7.17" fill="#dbf1eb"/>
<rect x="1483.28" y="270.39" width="7.15" height="7.17" fill="#7eceb8"/>
<rect x="1490.13" y="270.39" width="7.15" height="7.17" fill="#d4efe8"/>
<rect x="1483.28" y="263.52" width="7.15" height="7.17" fill="#d7f0e9"/>
<rect x="1490.13" y="263.52" width="7.15" height="7.17" fill="#81cfba"/>
<rect x="1496.97" y="263.52" width="7.15" height="7.17" fill="#cfede4"/>
<rect x="1490.13" y="256.66" width="7.15" height="7.17" fill="#d3eee7"/>
<rect x="1496.97" y="256.66" width="7.15" height="7.17" fill="#83d0bb"/>
<rect x="1503.82" y="256.66" width="7.15" height="7.17" fill="#c9ebe1"/>
<rect x="1496.97" y="249.79" width="7.15" height="7.17" fill="#cfede5"/>
<rect x="1503.82" y="249.79" width="7.15" height="7.17" fill="#85d1bc"/>
<rect x="1510.67" y="249.79" width="7.15" height="7.17" fill="#c4e9df"/>
<rect x="1517.52" y="249.79" width="7.15" height="7.17" fill="#fafdfc"/>
<rect x="1503.82" y="242.92" width="7.15" height="7.17" fill="#ccece3"/>
<rect x="1510.67" y="242.92" width="7.15" height="7.17" fill="#88d2be"/>
<rect x="1517.52" y="242.92" width="7.15" height="7.17" fill="#bfe7dc"/>
<rect x="1524.37" y="242.92" width="7.15" height="7.17" fill="#f7fcfb"/>
<rect x="1503.82" y="236.06" width="7.15" height="7.17" fill="#f8fcfb"/>
<rect x="1510.67" y="236.06" width="7.15" height="7.17" fill="#c9ebe2"/>
<rect x="1517.52" y="236.06" width="7.15" height="7.17" fill="#8ad3bf"/>
<rect x="1524.37" y="236.06" width="7.15" height="7.17" fill="#bbe5da"/>
<rect x="1531.21" y="236.06" width="7.15" height="7.17" fill="#f4fbf9"/>
<rect x="1510.67" y="229.19" width="7.15" height="7.17" fill="#f7fcfa"/>
<rect x="1517.52" y="229.19" width="7.15" height="7.17" fill="#c7eae0"/>
<rect x="1524.37" y="229.19" width="7.15" height="7.17" fill="#8dd4c0"/>
<rect x="1531.21" y="229.19" width="7.15" height="7.17" fill="#b8e4d8"/>
<rect x="1538.06" y="229.19" width="7.15" height="7.17" fill="#f1faf7"/>
<rect x="1517.52" y="222.32" width="7.15" height="7.17" fill="#f5fbf9"/>
<rect x="1524.37" y="222.32" width="7.15" height="7.17" fill="#c5e9df"/>
<rect x="1531.21" y="222.32" width="7.15" height="7.17" fill="#8fd4c2"/>
<rect x="1538.06" y="222.32" width="7.15" height="7.17" fill="#b4e3d6"/>
<rect x="1544.91" y="222.32" width="7.15" height="7.17" fill="#eef8f6"/>
<rect x="1524.37" y="215.45" width="7.15" height="7.17" fill="#f2faf8"/>
<rect x="1531.21" y="215.45" width="7.15" height="7.17" fill="#c3e8de"/>
<rect x="1538.06" y="215.45" width="7.15" height="7.17" fill="#92d5c3"/>
<rect x="1544.91" y="215.45" width="7.15" height="7.17" fill="#b2e2d5"/>
<rect x="1551.76" y="215.45" width="7.15" height="7.17" fill="#eaf7f4"/>
<rect x="1531.21" y="208.58" width="7.15" height="7.17" fill="#f0f9f7"/>
<rect x="1538.06" y="208.58" width="7.15" height="7.17" fill="#c2e8de"/>
<rect x="1544.91" y="208.58" width="7.15" height="7.17" fill="#94d6c4"/>
<rect x="1551.76" y="208.58" width="7.15" height="7.17" fill="#b0e1d4"/>
<rect x="1558.60" y="208.58" width="7.15" height="7.17" fill="#e6f6f1"/>
<rect x="1538.06" y="201.72" width="7.15" height="7.17" fill="#eef9f6"/>
<rect x="1544.91" y="201.72" width="7.15" height="7.17" fill="#c1e7dd"/>
<rect x="1551.76" y="201.72" width="7.15" height="7.17" fill="#97d7c6"/>
<rect x="1558.60" y="201.72" width="7.15" height="7.17" fill="#aee0d3"/>
<rect x="1565.45" y="201.72" width="7.15" height="7.17" fill="#e2f4ef"/>
<rect x="1544.91" y="194.85" width="7.15" height="7.17" fill="#ecf8f5"/>
<rect x="1551.76" y="194.85" width="7.15" height="7.17" fill="#c1e7dd"/>
<rect x="1558.60" y="194.85" width="7.15" height="7.17" fill="#99d8c7"/>
<rect x="1565.45" y="194.85" width="7.15" height="7.17" fill="#ade0d2"/>
<rect x="1572.30" y="194.85" width="7.15" height="7.17" fill="#dff3ed"/>
<rect x="1579.14" y="194.85" width="7.15" height="7.17" fill="#f9fdfc"/>
<rect x="1551.76" y="187.98" width="7.15" height="7.17" fill="#eaf7f4"/>
<rect x="1558.60" y="187.98" width="7.15" height="7.17" fill="#c0e7dd"/>
<rect x="1565.45" y="187.98" width="7.15" height="7.17" fill="#9cd9c8"/>
<rect x="1572.30" y="187.98" width="7.15" height="7.17" fill="#ade0d2"/>
<rect x="1579.14" y="187.98" width="7.15" height="7.17" fill="#dbf1eb"/>
<rect x="1585.99" y="187.98" width="7.15" height="7.17" fill="#f7fcfb"/>
<rect x="1558.60" y="181.12" width="7.15" height="7.17" fill="#e8f6f3"/>
<rect x="1565.45" y="181.12" width="7.15" height="7.17" fill="#c0e7dc"/>
<rect x="1572.30" y="181.12" width="7.15" height="7.17" fill="#9edaca"/>
<rect x="1579.14" y="181.12" width="7.15" height="7.17" fill="#ace0d2"/>
<rect x="1585.99" y="181.12" width="7.15" height="7.17" fill="#d8f0e9"/>
<rect x="1592.84" y="181.12" width="7.15" height="7.17" fill="#f5fbf9"/>
<rect x="1558.60" y="174.25" width="7.15" height="7.17" fill="#f9fdfc"/>
<rect x="1565.45" y="174.25" width="7.15" height="7.17" fill="#e7f6f2"/>
<rect x="1572.30" y="174.25" width="7.15" height="7.17" fill="#c0e7dc"/>
<rect x="1579.14" y="174.25" width="7.15" height="7.17" fill="#a1dbcb"/>
<rect x="1585.99" y="174.25" width="7.15" height="7.17" fill="#ace0d2"/>
<rect x="1592.84" y="174.25" width="7.15" height="7.17" fill="#d5efe8"/>
<rect x="1599.69" y="174.25" width="7.15" height="7.17" fill="#f2faf8"/>
<rect x="1565.45" y="167.38" width="7.15" height="7.17" fill="#f8fcfb"/>
<rect x="1572.30" y="167.38" width="7.15" height="7.17" fill="#e5f5f1"/>
<rect x="1579.14" y="167.38" width="7.15" height="7.17" fill="#c0e7dd"/>
<rect x="1585.99" y="167.38" width="7.15" height="7.17" fill="#a3dccc"/>
<rect x="1592.84" y="167.38" width="7.15" height="7.17" fill="#ade0d2"/>
<rect x="1599.69" y="167.38" width="7.15" height="7.17" fill="#d2eee6"/>
<rect x="1606.54" y="167.38" width="7.15" height="7.17" fill="#f0f9f7"/>
<rect x="1572.30" y="160.51" width="7.15" height="7.17" fill="#f7fcfb"/>
<rect x="1579.14" y="160.51" width="7.15" height="7.17" fill="#e4f5f0"/>
<rect x="1585.99" y="160.51" width="7.15" height="7.17" fill="#c1e7dd"/>
<rect x="1592.84" y="160.51" width="7.15" height="7.17" fill="#a5ddce"/>
<rect x="1599.69" y="160.51" width="7.15" height="7.17" fill="#ade0d2"/>
<rect x="1606.54" y="160.51" width="7.15" height="7.17" fill="#cfede5"/>
<rect x="1613.38" y="160.51" width="7.15" height="7.17" fill="#edf8f5"/>
<rect x="1579.14" y="153.64" width="7.15" height="7.17" fill="#f6fcfa"/>
<rect x="1585.99" y="153.64" width="7.15" height="7.17" fill="#e2f4ef"/>
<rect x="1592.84" y="153.64" width="7.15" height="7.17" fill="#c1e8dd"/>
<rect x="1599.69" y="153.64" width="7.15" height="7.17" fill="#a8decf"/>
<rect x="1606.54" y="153.64" width="7.15" height="7.17" fill="#aee0d3"/>
<rect x="1613.38" y="153.64" width="7.15" height="7.17" fill="#cdece4"/>
<rect x="1620.23" y="153.64" width="7.15" height="7.17" fill="#ebf7f4"/>
<rect x="1627.08" y="153.64" width="7.15" height="7.17" fill="#fafdfc"/>
<rect x="1585.99" y="146.78" width="7.15" height="7.17" fill="#f5fbfa"/>
<rect x="1592.84" y="146.78" width="7.15" height="7.17" fill="#e1f4ef"/>
<rect x="1599.69" y="146.78" width="7.15" height="7.17" fill="#c2e8de"/>
<rect x="1606.54" y="146.78" width="7.15" height="7.17" fill="#aadfd1"/>
<rect x="1613.38" y="146.78" width="7.15" height="7.17" fill="#afe1d3"/>
<rect x="1620.23" y="146.78" width="7.15" height="7.17" fill="#ccebe3"/>
<rect x="1627.08" y="146.78" width="7.15" height="7.17" fill="#e8f6f3"/>
<rect x="1633.93" y="146.78" width="7.15" height="7.17" fill="#f8fcfb"/>
<rect x="1592.84" y="139.91" width="7.15" height="7.17" fill="#f4fbf9"/>
<rect x="1599.69" y="139.91" width="7.15" height="7.17" fill="#e0f3ee"/>
<rect x="1606.54" y="139.91" width="7.15" height="7.17" fill="#c3e8de"/>
<rect x="1613.38" y="139.91" width="7.15" height="7.17" fill="#ade0d2"/>
<rect x="1620.23" y="139.91" width="7.15" height="7.17" fill="#b0e1d4"/>
<rect x="1627.08" y="139.91" width="7.15" height="7.17" fill="#caebe2"/>
<rect x="1633.93" y="139.91" width="7.15" height="7.17" fill="#e6f6f1"/>
<rect x="1640.77" y="139.91" width="7.15" height="7.17" fill="#f7fcfa"/>
<rect x="1599.69" y="133.04" width="7.15" height="7.17" fill="#f3faf8"/>
<rect x="1606.54" y="133.04" width="7.15" height="7.17" fill="#e0f3ee"/>
<rect x="1613.38" y="133.04" width="7.15" height="7.17" fill="#c4e9df"/>
<rect x="1620.23" y="133.04" width="7.15" height="7.17" fill="#afe1d3"/>
<rect x="1627.08" y="133.04" width="7.15" height="7.17" fill="#b2e2d4"/>
<rect x="1633.93" y="133.04" width="7.15" height="7.17" fill="#c9eae1"/>
<rect x="1640.77" y="133.04" width="7.15" height="7.17" fill="#e4f5f0"/>
<rect x="1647.62" y="133.04" width="7.15" height="7.17" fill="#f5fbfa"/>
<rect x="1606.54" y="126.18" width="7.15" height="7.17" fill="#f2faf8"/>
<rect x="1613.38" y="126.18" width="7.15" height="7.17" fill="#dff3ed"/>
<rect x="1620.23" y="126.18" width="7.15" height="7.17" fill="#c5e9df"/>
<rect x="1627.08" y="126.18" width="7.15" height="7.17" fill="#b2e2d5"/>
<rect x="1633.93" y="126.18" width="7.15" height="7.17" fill="#b3e2d5"/>
<rect x="1640.77" y="126.18" width="7.15" height="7.17" fill="#c8eae1"/>
<rect x="1647.62" y="126.18" width="7.15" height="7.17" fill="#e2f4ef"/>
<rect x="1654.47" y="126.18" width="7.15" height="7.17" fill="#f4fbf9"/>
<rect x="1613.38" y="119.31" width="7.15" height="7.17" fill="#f1faf7"/>
<rect x="1620.23" y="119.31" width="7.15" height="7.17" fill="#dff3ed"/>
<rect x="1627.08" y="119.31" width="7.15" height="7.17" fill="#c6e9e0"/>
<rect x="1633.93" y="119.31" width="7.15" height="7.17" fill="#b4e3d6"/>
<rect x="1640.77" y="119.31" width="7.15" height="7.17" fill="#b5e3d6"/>
<rect x="1647.62" y="119.31" width="7.15" height="7.17" fill="#c8eae1"/>
<rect x="1654.47" y="119.31" width="7.15" height="7.17" fill="#e0f3ee"/>
<rect x="1661.32" y="119.31" width="7.15" height="7.17" fill="#f2faf8"/>
<rect x="1620.23" y="112.44" width="7.15" height="7.17" fill="#f0f9f7"/>
<rect x="1627.08" y="112.44" width="7.15" height="7.17" fill="#def3ed"/>
<rect x="1633.93" y="112.44" width="7.15" height="7.17" fill="#c8eae1"/>
<rect x="1640.77" y="112.44" width="7.15" height="7.17" fill="#b7e3d7"/>
<rect x="1647.62" y="112.44" width="7.15" height="7.17" fill="#b6e3d7"/>
<rect x="1654.47" y="112.44" width="7.15" height="7.17" fill="#c7eae0"/>
<rect x="1661.32" y="112.44" width="7.15" height="7.17" fill="#def3ed"/>
<rect x="1668.16" y="112.44" width="7.15" height="7.17" fill="#f0f9f7"/>
<rect x="1675.01" y="112.44" width="7.15" height="7.17" fill="#fafdfc"/>
<rect x="1620.23" y="105.57" width="7.15" height="7.17" fill="#f9fdfc"/>
<rect x="1627.08" y="105.57" width="7.15" height="7.17" fill="#f0f9f7"/>
<rect x="1633.93" y="105.57" width="7.15" height="7.17" fill="#def3ed"/>
<rect x="1640.77" y="105.57" width="7.15" height="7.17" fill="#c9eae1"/>
<rect x="1647.62" y="105.57" width="7.15" height="7.17" fill="#b9e4d9"/>
<rect x="1654.47" y="105.57" width="7.15" height="7.17" fill="#b8e4d8"/>
<rect x="1661.32" y="105.57" width="7.15" height="7.17" fill="#c7eae0"/>
<rect x="1668.16" y="105.57" width="7.15" height="7.17" fill="#ddf2ec"/>
<rect x="1675.01" y="105.57" width="7.15" height="7.17" fill="#eef9f6"/>
<rect x="1681.86" y="105.57" width="7.15" height="7.17" fill="#f9fdfc"/>
<rect x="1627.08" y="98.70" width="7.15" height="7.17" fill="#f9fdfc"/>
<rect x="1633.93" y="98.70" width="7.15" height="7.17" fill="#eff9f6"/>
<rect x="1640.77" y="98.70" width="7.15" height="7.17" fill="#def3ed"/>
<rect x="1647.62" y="98.70" width="7.15" height="7.17" fill="#caebe2"/>
<rect x="1654.47" y="98.70" width="7.15" height="7.17" fill="#bbe5da"/>
<rect x="1661.32" y="98.70" width="7.15" height="7.17" fill="#bae5d9"/>
<rect x="1668.16" y="98.70" width="7.15" height="7.17" fill="#c7eae1"/>
<rect x="1675.01" y="98.70" width="7.15" height="7.17" fill="#dbf1eb"/>
<rect x="1681.86" y="98.70" width="7.15" height="7.17" fill="#edf8f5"/>
<rect x="1688.71" y="98.70" width="7.15" height="7.17" fill="#f8fcfb"/>
<rect x="1633.93" y="91.84" width="7.15" height="7.17" fill="#f8fcfb"/>
<rect x="1640.77" y="91.84" width="7.15" height="7.17" fill="#eef9f6"/>
<rect x="1647.62" y="91.84" width="7.15" height="7.17" fill="#def3ed"/>
<rect x="1654.47" y="91.84" width="7.15" height="7.17" fill="#ccebe3"/>
<rect x="1661.32" y="91.84" width="7.15" height="7.17" fill="#bee6db"/>
<rect x="1668.16" y="91.84" width="7.15" height="7.17" fill="#bce6da"/>
<rect x="1675.01" y="91.84" width="7.15" height="7.17" fill="#c8eae1"/>
<rect x="1681.86" y="91.84" width="7.15" height="7.17" fill="#daf1eb"/>
<rect x="1688.71" y="91.84" width="7.15" height="7.17" fill="#ebf8f4"/>
<rect x="1695.55" y="91.84" width="7.15" height="7.17" fill="#f7fcfa"/>
<rect x="1640.77" y="84.97" width="7.15" height="7.17" fill="#f8fcfb"/>
<rect x="1647.62" y="84.97" width="7.15" height="7.17" fill="#eef8f6"/>
<rect x="1654.47" y="84.97" width="7.15" height="7.17" fill="#dff3ed"/>
<rect x="1661.32" y="84.97" width="7.15" height="7.17" fill="#cdece4"/>
<rect x="1668.16" y="84.97" width="7.15" height="7.17" fill="#c0e7dd"/>
<rect x="1675.01" y="84.97" width="7.15" height="7.17" fill="#bee6db"/>
<rect x="1681.86" y="84.97" width="7.15" height="7.17" fill="#c9eae1"/>
<rect x="1688.71" y="84.97" width="7.15" height="7.17" fill="#daf1ea"/>
<rect x="1695.55" y="84.97" width="7.15" height="7.17" fill="#eaf7f3"/>
<rect x="1647.62" y="78.10" width="7.15" height="7.17" fill="#f7fcfb"/>
<rect x="1654.47" y="78.10" width="7.15" height="7.17" fill="#eef8f5"/>
<rect x="1661.32" y="78.10" width="7.15" height="7.17" fill="#dff3ed"/>
<rect x="1668.16" y="78.10" width="7.15" height="7.17" fill="#cfede4"/>
<rect x="1675.01" y="78.10" width="7.15" height="7.17" fill="#c3e8de"/>
<rect x="1681.86" y="78.10" width="7.15" height="7.17" fill="#c0e7dd"/>
<rect x="1688.71" y="78.10" width="7.15" height="7.17" fill="#c9ebe2"/>
<rect x="1695.55" y="78.10" width="7.15" height="7.17" fill="#d9f1ea"/>
<rect x="1654.47" y="71.24" width="7.15" height="7.17" fill="#f7fcfa"/>
<rect x="1661.32" y="71.24" width="7.15" height="7.17" fill="#edf8f5"/>
<rect x="1668.16" y="71.24" width="7.15" height="7.17" fill="#e0f3ee"/>
<rect x="1675.01" y="71.24" width="7.15" height="7.17" fill="#d0ede5"/>
<rect x="1681.86" y="71.24" width="7.15" height="7.17" fill="#c5e9df"/>
<rect x="1688.71" y="71.24" width="7.15" height="7.17" fill="#c3e8de"/>
<rect x="1695.55" y="71.24" width="7.15" height="7.17" fill="#caebe2"/>
<rect x="1661.32" y="64.37" width="7.15" height="7.17" fill="#f6fcfa"/>
<rect x="1668.16" y="64.37" width="7.15" height="7.17" fill="#edf8f5"/>
<rect x="1675.01" y="64.37" width="7.15" height="7.17" fill="#e0f3ee"/>
<rect x="1681.86" y="64.37" width="7.15" height="7.17" fill="#d2eee6"/>
<rect x="1688.71" y="64.37" width="7.15" height="7.17" fill="#c7eae0"/>
<rect x="1695.55" y="64.37" width="7.15" height="7.17" fill="#c5e9df"/>
<rect x="1668.16" y="57.50" width="7.15" height="7.17" fill="#f6fcfa"/>
<rect x="1675.01" y="57.50" width="7.15" height="7.17" fill="#edf8f5"/>
<rect x="1681.86" y="57.50" width="7.15" height="7.17" fill="#e1f3ee"/>
<rect x="1688.71" y="57.50" width="7.15" height="7.17" fill="#d4eee7"/>
<rect x="1695.55" y="57.50" width="7.15" height="7.17" fill="#caebe2"/>
<rect x="1428.5" y="57.5" width="273.9" height="274.7" fill="none" stroke="#111" stroke-width="1.7"/>
<rect x="1437.00" y="748.93" width="7.15" height="7.17" fill="#ebb233"/>
<rect x="1443.85" y="748.93" width="7.15" height="7.17" fill="#f6dda4"/>
<rect x="1450.70" y="748.93" width="7.15" height="7.17" fill="#fefcf8"/>
<rect x="1437.00" y="742.06" width="7.15" height="7.17" fill="#f5d999"/>
<rect x="1443.85" y="742.06" width="7.15" height="7.17" fill="#ebb334"/>
<rect x="1450.70" y="742.06" width="7.15" height="7.17" fill="#faebca"/>
<rect x="1457.55" y="742.06" width="7.15" height="7.17" fill="#fefcf7"/>
<rect x="1437.00" y="735.19" width="7.15" height="7.17" fill="#fefbf4"/>
<rect x="1443.85" y="735.19" width="7.15" height="7.17" fill="#f4d38a"/>
<rect x="1450.70" y="735.19" width="7.15" height="7.17" fill="#f3d389"/>
<rect x="1457.55" y="735.19" width="7.15" height="7.17" fill="#faebca"/>
<rect x="1464.40" y="735.19" width="7.15" height="7.17" fill="#fefcf7"/>
<rect x="1443.85" y="728.32" width="7.15" height="7.17" fill="#fdf8ee"/>
<rect x="1450.70" y="728.32" width="7.15" height="7.17" fill="#f7e2b2"/>
<rect x="1457.55" y="728.32" width="7.15" height="7.17" fill="#f4d38a"/>
<rect x="1464.40" y="728.32" width="7.15" height="7.17" fill="#faebca"/>
<rect x="1471.25" y="728.32" width="7.15" height="7.17" fill="#fefbf6"/>
<rect x="1450.70" y="721.45" width="7.15" height="7.17" fill="#fefaf1"/>
<rect x="1457.55" y="721.45" width="7.15" height="7.17" fill="#f7dfab"/>
<rect x="1464.40" y="721.45" width="7.15" height="7.17" fill="#f4d38b"/>
<rect x="1471.25" y="721.45" width="7.15" height="7.17" fill="#faebca"/>
<rect x="1478.10" y="721.45" width="7.15" height="7.17" fill="#fefbf5"/>
<rect x="1457.55" y="714.58" width="7.15" height="7.17" fill="#fdf8ec"/>
<rect x="1464.40" y="714.58" width="7.15" height="7.17" fill="#f6dda5"/>
<rect x="1471.25" y="714.58" width="7.15" height="7.17" fill="#f4d48c"/>
<rect x="1478.10" y="714.58" width="7.15" height="7.17" fill="#faebca"/>
<rect x="1484.95" y="714.58" width="7.15" height="7.17" fill="#fefbf4"/>
<rect x="1464.40" y="707.71" width="7.15" height="7.17" fill="#fdf6e6"/>
<rect x="1471.25" y="707.71" width="7.15" height="7.17" fill="#f6dba0"/>
<rect x="1478.10" y="707.71" width="7.15" height="7.17" fill="#f4d48d"/>
<rect x="1484.95" y="707.71" width="7.15" height="7.17" fill="#faebc9"/>
<rect x="1491.80" y="707.71" width="7.15" height="7.17" fill="#fefaf2"/>
<rect x="1471.25" y="700.84" width="7.15" height="7.17" fill="#fcf4e1"/>
<rect x="1478.10" y="700.84" width="7.15" height="7.17" fill="#f5da9c"/>
<rect x="1484.95" y="700.84" width="7.15" height="7.17" fill="#f4d58e"/>
<rect x="1491.80" y="700.84" width="7.15" height="7.17" fill="#faeac8"/>
<rect x="1498.65" y="700.84" width="7.15" height="7.17" fill="#fefaf1"/>
<rect x="1478.10" y="693.97" width="7.15" height="7.17" fill="#fcf2db"/>
<rect x="1484.95" y="693.97" width="7.15" height="7.17" fill="#f5d898"/>
<rect x="1491.80" y="693.97" width="7.15" height="7.17" fill="#f4d58f"/>
<rect x="1498.65" y="693.97" width="7.15" height="7.17" fill="#f9eac7"/>
<rect x="1505.50" y="693.97" width="7.15" height="7.17" fill="#fef9f0"/>
<rect x="1478.10" y="687.10" width="7.15" height="7.17" fill="#fefdfa"/>
<rect x="1484.95" y="687.10" width="7.15" height="7.17" fill="#fbf0d6"/>
<rect x="1491.80" y="687.10" width="7.15" height="7.17" fill="#f5d796"/>
<rect x="1498.65" y="687.10" width="7.15" height="7.17" fill="#f4d590"/>
<rect x="1505.50" y="687.10" width="7.15" height="7.17" fill="#f9e9c5"/>
<rect x="1512.35" y="687.10" width="7.15" height="7.17" fill="#fdf9ee"/>
<rect x="1484.95" y="680.23" width="7.15" height="7.17" fill="#fefcf8"/>
<rect x="1491.80" y="680.23" width="7.15" height="7.17" fill="#faeed1"/>
<rect x="1498.65" y="680.23" width="7.15" height="7.17" fill="#f4d693"/>
<rect x="1505.50" y="680.23" width="7.15" height="7.17" fill="#f4d590"/>
<rect x="1512.35" y="680.23" width="7.15" height="7.17" fill="#f9e9c4"/>
<rect x="1519.20" y="680.23" width="7.15" height="7.17" fill="#fdf8ec"/>
<rect x="1491.80" y="673.36" width="7.15" height="7.17" fill="#fefbf6"/>
<rect x="1498.65" y="673.36" width="7.15" height="7.17" fill="#faeccc"/>
<rect x="1505.50" y="673.36" width="7.15" height="7.17" fill="#f4d692"/>
<rect x="1512.35" y="673.36" width="7.15" height="7.17" fill="#f4d590"/>
<rect x="1519.20" y="673.36" width="7.15" height="7.17" fill="#f9e8c2"/>
<rect x="1526.05" y="673.36" width="7.15" height="7.17" fill="#fdf7ea"/>
<rect x="1498.65" y="666.49" width="7.15" height="7.17" fill="#fefbf3"/>
<rect x="1505.50" y="666.49" width="7.15" height="7.17" fill="#faeac8"/>
<rect x="1512.35" y="666.49" width="7.15" height="7.17" fill="#f4d590"/>
<rect x="1519.20" y="666.49" width="7.15" height="7.17" fill="#f4d590"/>
<rect x="1526.05" y="666.49" width="7.15" height="7.17" fill="#f9e7c0"/>
<rect x="1532.90" y="666.49" width="7.15" height="7.17" fill="#fdf6e8"/>
<rect x="1539.75" y="666.49" width="7.15" height="7.17" fill="#fefdf9"/>
<rect x="1505.50" y="659.62" width="7.15" height="7.17" fill="#fefaf1"/>
<rect x="1512.35" y="659.62" width="7.15" height="7.17" fill="#f9e9c4"/>
<rect x="1519.20" y="659.62" width="7.15" height="7.17" fill="#f4d58f"/>
<rect x="1526.05" y="659.62" width="7.15" height="7.17" fill="#f4d590"/>
<rect x="1532.90" y="659.62" width="7.15" height="7.17" fill="#f9e6bd"/>
<rect x="1539.75" y="659.62" width="7.15" height="7.17" fill="#fdf6e6"/>
<rect x="1546.60" y="659.62" width="7.15" height="7.17" fill="#fefcf8"/>
<rect x="1512.35" y="652.75" width="7.15" height="7.17" fill="#fdf9ee"/>
<rect x="1519.20" y="652.75" width="7.15" height="7.17" fill="#f9e8c1"/>
<rect x="1526.05" y="652.75" width="7.15" height="7.17" fill="#f4d58f"/>
<rect x="1532.90" y="652.75" width="7.15" height="7.17" fill="#f4d58f"/>
<rect x="1539.75" y="652.75" width="7.15" height="7.17" fill="#f8e5bb"/>
<rect x="1546.60" y="652.75" width="7.15" height="7.17" fill="#fcf5e3"/>
<rect x="1553.45" y="652.75" width="7.15" height="7.17" fill="#fefcf7"/>
<rect x="1519.20" y="645.88" width="7.15" height="7.17" fill="#fdf8ec"/>
<rect x="1526.05" y="645.88" width="7.15" height="7.17" fill="#f9e7be"/>
<rect x="1532.90" y="645.88" width="7.15" height="7.17" fill="#f4d58e"/>
<rect x="1539.75" y="645.88" width="7.15" height="7.17" fill="#f4d58f"/>
<rect x="1546.60" y="645.88" width="7.15" height="7.17" fill="#f8e4b8"/>
<rect x="1553.45" y="645.88" width="7.15" height="7.17" fill="#fcf3e0"/>
<rect x="1560.30" y="645.88" width="7.15" height="7.17" fill="#fefbf5"/>
<rect x="1526.05" y="639.01" width="7.15" height="7.17" fill="#fdf7ea"/>
<rect x="1532.90" y="639.01" width="7.15" height="7.17" fill="#f8e6bc"/>
<rect x="1539.75" y="639.01" width="7.15" height="7.17" fill="#f4d48e"/>
<rect x="1546.60" y="639.01" width="7.15" height="7.17" fill="#f4d48e"/>
<rect x="1553.45" y="639.01" width="7.15" height="7.17" fill="#f8e3b5"/>
<rect x="1560.30" y="639.01" width="7.15" height="7.17" fill="#fcf2dd"/>
<rect x="1567.15" y="639.01" width="7.15" height="7.17" fill="#fefbf3"/>
<rect x="1532.90" y="632.14" width="7.15" height="7.17" fill="#fdf6e7"/>
<rect x="1539.75" y="632.14" width="7.15" height="7.17" fill="#f8e5ba"/>
<rect x="1546.60" y="632.14" width="7.15" height="7.17" fill="#f4d48e"/>
<rect x="1553.45" y="632.14" width="7.15" height="7.17" fill="#f4d48d"/>
<rect x="1560.30" y="632.14" width="7.15" height="7.17" fill="#f7e2b2"/>
<rect x="1567.15" y="632.14" width="7.15" height="7.17" fill="#fbf1da"/>
<rect x="1574.00" y="632.14" width="7.15" height="7.17" fill="#fefaf2"/>
<rect x="1539.75" y="625.27" width="7.15" height="7.17" fill="#fcf5e5"/>
<rect x="1546.60" y="625.27" width="7.15" height="7.17" fill="#f8e4b8"/>
<rect x="1553.45" y="625.27" width="7.15" height="7.17" fill="#f4d58e"/>
<rect x="1560.30" y="625.27" width="7.15" height="7.17" fill="#f4d48c"/>
<rect x="1567.15" y="625.27" width="7.15" height="7.17" fill="#f7e1af"/>
<rect x="1574.00" y="625.27" width="7.15" height="7.17" fill="#fbf0d7"/>
<rect x="1580.85" y="625.27" width="7.15" height="7.17" fill="#fefaf1"/>
<rect x="1539.75" y="618.40" width="7.15" height="7.17" fill="#fefdf9"/>
<rect x="1546.60" y="618.40" width="7.15" height="7.17" fill="#fcf5e3"/>
<rect x="1553.45" y="618.40" width="7.15" height="7.17" fill="#f8e4b7"/>
<rect x="1560.30" y="618.40" width="7.15" height="7.17" fill="#f4d58e"/>
<rect x="1567.15" y="618.40" width="7.15" height="7.17" fill="#f4d38b"/>
<rect x="1574.00" y="618.40" width="7.15" height="7.17" fill="#f7e0ac"/>
<rect x="1580.85" y="618.40" width="7.15" height="7.17" fill="#fbefd6"/>
<rect x="1587.70" y="618.40" width="7.15" height="7.17" fill="#fef9f0"/>
<rect x="1546.60" y="611.53" width="7.15" height="7.17" fill="#fefcf8"/>
<rect x="1553.45" y="611.53" width="7.15" height="7.17" fill="#fcf4e2"/>
<rect x="1560.30" y="611.53" width="7.15" height="7.17" fill="#f8e4b7"/>
<rect x="1567.15" y="611.53" width="7.15" height="7.17" fill="#f4d58f"/>
<rect x="1574.00" y="611.53" width="7.15" height="7.17" fill="#f4d38a"/>
<rect x="1580.85" y="611.53" width="7.15" height="7.17" fill="#f7dfaa"/>
<rect x="1587.70" y="611.53" width="7.15" height="7.17" fill="#fbefd4"/>
<rect x="1594.55" y="611.53" width="7.15" height="7.17" fill="#fdf9ef"/>
<rect x="1553.45" y="604.66" width="7.15" height="7.17" fill="#fefcf7"/>
<rect x="1560.30" y="604.66" width="7.15" height="7.17" fill="#fcf4e1"/>
<rect x="1567.15" y="604.66" width="7.15" height="7.17" fill="#f8e4b6"/>
<rect x="1574.00" y="604.66" width="7.15" height="7.17" fill="#f4d590"/>
<rect x="1580.85" y="604.66" width="7.15" height="7.17" fill="#f4d38a"/>
<rect x="1587.70" y="604.66" width="7.15" height="7.17" fill="#f6dea8"/>
<rect x="1594.55" y="604.66" width="7.15" height="7.17" fill="#fbeed1"/>
<rect x="1601.40" y="604.66" width="7.15" height="7.17" fill="#fdf9ee"/>
<rect x="1560.30" y="597.79" width="7.15" height="7.17" fill="#fefcf7"/>
<rect x="1567.15" y="597.79" width="7.15" height="7.17" fill="#fcf3df"/>
<rect x="1574.00" y="597.79" width="7.15" height="7.17" fill="#f8e4b7"/>
<rect x="1580.85" y="597.79" width="7.15" height="7.17" fill="#f4d691"/>
<rect x="1587.70" y="597.79" width="7.15" height="7.17" fill="#f3d389"/>
<rect x="1594.55" y="597.79" width="7.15" height="7.17" fill="#f6dda5"/>
<rect x="1601.40" y="597.79" width="7.15" height="7.17" fill="#faedce"/>
<rect x="1608.25" y="597.79" width="7.15" height="7.17" fill="#fdf8ec"/>
<rect x="1615.10" y="597.79" width="7.15" height="7.17" fill="#fefdfa"/>
<rect x="1567.15" y="590.92" width="7.15" height="7.17" fill="#fefcf6"/>
<rect x="1574.00" y="590.92" width="7.15" height="7.17" fill="#fcf3e0"/>
<rect x="1580.85" y="590.92" width="7.15" height="7.17" fill="#f8e5b9"/>
<rect x="1587.70" y="590.92" width="7.15" height="7.17" fill="#f4d693"/>
<rect x="1594.55" y="590.92" width="7.15" height="7.17" fill="#f3d288"/>
<rect x="1601.40" y="590.92" width="7.15" height="7.17" fill="#f6dca2"/>
<rect x="1608.25" y="590.92" width="7.15" height="7.17" fill="#faeccb"/>
<rect x="1615.10" y="590.92" width="7.15" height="7.17" fill="#fdf7ea"/>
<rect x="1621.95" y="590.92" width="7.15" height="7.17" fill="#fefdf9"/>
<rect x="1574.00" y="584.05" width="7.15" height="7.17" fill="#fefcf6"/>
<rect x="1580.85" y="584.05" width="7.15" height="7.17" fill="#fcf4e1"/>
<rect x="1587.70" y="584.05" width="7.15" height="7.17" fill="#f8e6bc"/>
<rect x="1594.55" y="584.05" width="7.15" height="7.17" fill="#f5d795"/>
<rect x="1601.40" y="584.05" width="7.15" height="7.17" fill="#f3d288"/>
<rect x="1608.25" y="584.05" width="7.15" height="7.17" fill="#f6db9f"/>
<rect x="1615.10" y="584.05" width="7.15" height="7.17" fill="#faeac8"/>
<rect x="1621.95" y="584.05" width="7.15" height="7.17" fill="#fdf6e8"/>
<rect x="1628.80" y="584.05" width="7.15" height="7.17" fill="#fefcf8"/>
<rect x="1580.85" y="577.18" width="7.15" height="7.17" fill="#fefcf6"/>
<rect x="1587.70" y="577.18" width="7.15" height="7.17" fill="#fcf4e3"/>
<rect x="1594.55" y="577.18" width="7.15" height="7.17" fill="#f9e7bf"/>
<rect x="1601.40" y="577.18" width="7.15" height="7.17" fill="#f5d897"/>
<rect x="1608.25" y="577.18" width="7.15" height="7.17" fill="#f3d287"/>
<rect x="1615.10" y="577.18" width="7.15" height="7.17" fill="#f5da9c"/>
<rect x="1621.95" y="577.18" width="7.15" height="7.17" fill="#f9e9c4"/>
<rect x="1628.80" y="577.18" width="7.15" height="7.17" fill="#fdf5e6"/>
<rect x="1635.65" y="577.18" width="7.15" height="7.17" fill="#fefcf7"/>
<rect x="1587.70" y="570.31" width="7.15" height="7.17" fill="#fefcf7"/>
<rect x="1594.55" y="570.31" width="7.15" height="7.17" fill="#fcf5e5"/>
<rect x="1601.40" y="570.31" width="7.15" height="7.17" fill="#f9e8c2"/>
<rect x="1608.25" y="570.31" width="7.15" height="7.17" fill="#f5d99a"/>
<rect x="1615.10" y="570.31" width="7.15" height="7.17" fill="#f3d287"/>
<rect x="1621.95" y="570.31" width="7.15" height="7.17" fill="#f5d999"/>
<rect x="1628.80" y="570.31" width="7.15" height="7.17" fill="#f9e7c0"/>
<rect x="1635.65" y="570.31" width="7.15" height="7.17" fill="#fcf4e3"/>
<rect x="1642.50" y="570.31" width="7.15" height="7.17" fill="#fefbf6"/>
<rect x="1594.55" y="563.44" width="7.15" height="7.17" fill="#fefcf8"/>
<rect x="1601.40" y="563.44" width="7.15" height="7.17" fill="#fdf6e6"/>
<rect x="1608.25" y="563.44" width="7.15" height="7.17" fill="#f9e9c5"/>
<rect x="1615.10" y="563.44" width="7.15" height="7.17" fill="#f5da9d"/>
<rect x="1621.95" y="563.44" width="7.15" height="7.17" fill="#f3d287"/>
<rect x="1628.80" y="563.44" width="7.15" height="7.17" fill="#f5d796"/>
<rect x="1635.65" y="563.44" width="7.15" height="7.17" fill="#f8e6bc"/>
<rect x="1642.50" y="563.44" width="7.15" height="7.17" fill="#fcf3df"/>
<rect x="1649.35" y="563.44" width="7.15" height="7.17" fill="#fefbf4"/>
<rect x="1601.40" y="556.57" width="7.15" height="7.17" fill="#fefdf8"/>
<rect x="1608.25" y="556.57" width="7.15" height="7.17" fill="#fdf7e8"/>
<rect x="1615.10" y="556.57" width="7.15" height="7.17" fill="#faeac8"/>
<rect x="1621.95" y="556.57" width="7.15" height="7.17" fill="#f6dba0"/>
<rect x="1628.80" y="556.57" width="7.15" height="7.17" fill="#f3d288"/>
<rect x="1635.65" y="556.57" width="7.15" height="7.17" fill="#f4d693"/>
<rect x="1642.50" y="556.57" width="7.15" height="7.17" fill="#f8e4b7"/>
<rect x="1649.35" y="556.57" width="7.15" height="7.17" fill="#fcf2dc"/>
<rect x="1656.20" y="556.57" width="7.15" height="7.17" fill="#fefaf2"/>
<rect x="1608.25" y="549.70" width="7.15" height="7.17" fill="#fefdf9"/>
<rect x="1615.10" y="549.70" width="7.15" height="7.17" fill="#fdf7ea"/>
<rect x="1621.95" y="549.70" width="7.15" height="7.17" fill="#faeccc"/>
<rect x="1628.80" y="549.70" width="7.15" height="7.17" fill="#f6dda4"/>
<rect x="1635.65" y="549.70" width="7.15" height="7.17" fill="#f3d389"/>
<rect x="1642.50" y="549.70" width="7.15" height="7.17" fill="#f4d590"/>
<rect x="1649.35" y="549.70" width="7.15" height="7.17" fill="#f7e2b2"/>
<rect x="1656.20" y="549.70" width="7.15" height="7.17" fill="#fbf0d8"/>
<rect x="1663.05" y="549.70" width="7.15" height="7.17" fill="#fef9f0"/>
<rect x="1615.10" y="542.83" width="7.15" height="7.17" fill="#fefdfa"/>
<rect x="1621.95" y="542.83" width="7.15" height="7.17" fill="#fdf8ec"/>
<rect x="1628.80" y="542.83" width="7.15" height="7.17" fill="#faedd0"/>
<rect x="1635.65" y="542.83" width="7.15" height="7.17" fill="#f6dea8"/>
<rect x="1642.50" y="542.83" width="7.15" height="7.17" fill="#f4d38b"/>
<rect x="1649.35" y="542.83" width="7.15" height="7.17" fill="#f4d48d"/>
<rect x="1656.20" y="542.83" width="7.15" height="7.17" fill="#f7e0ad"/>
<rect x="1663.05" y="542.83" width="7.15" height="7.17" fill="#fbeed3"/>
<rect x="1669.90" y="542.83" width="7.15" height="7.17" fill="#fdf8ee"/>
<rect x="1676.75" y="542.83" width="7.15" height="7.17" fill="#fefdfa"/>
<rect x="1628.80" y="535.96" width="7.15" height="7.17" fill="#fdf9ee"/>
<rect x="1635.65" y="535.96" width="7.15" height="7.17" fill="#fbefd4"/>
<rect x="1642.50" y="535.96" width="7.15" height="7.17" fill="#f7e0ad"/>
<rect x="1649.35" y="535.96" width="7.15" height="7.17" fill="#f4d48d"/>
<rect x="1656.20" y="535.96" width="7.15" height="7.17" fill="#f4d38b"/>
<rect x="1663.05" y="535.96" width="7.15" height="7.17" fill="#f6dea7"/>
<rect x="1669.90" y="535.96" width="7.15" height="7.17" fill="#faedce"/>
<rect x="1676.75" y="535.96" width="7.15" height="7.17" fill="#fdf7eb"/>
<rect x="1635.65" y="529.09" width="7.15" height="7.17" fill="#fefaf0"/>
<rect x="1642.50" y="529.09" width="7.15" height="7.17" fill="#fbf0d8"/>
<rect x="1649.35" y="529.09" width="7.15" height="7.17" fill="#f7e2b2"/>
<rect x="1656.20" y="529.09" width="7.15" height="7.17" fill="#f4d590"/>
<rect x="1663.05" y="529.09" width="7.15" height="7.17" fill="#f3d389"/>
<rect x="1669.90" y="529.09" width="7.15" height="7.17" fill="#f6dca2"/>
<rect x="1676.75" y="529.09" width="7.15" height="7.17" fill="#faebc9"/>
<rect x="1642.50" y="522.22" width="7.15" height="7.17" fill="#fefaf2"/>
<rect x="1649.35" y="522.22" width="7.15" height="7.17" fill="#fcf2dc"/>
<rect x="1656.20" y="522.22" width="7.15" height="7.17" fill="#f8e4b7"/>
<rect x="1663.05" y="522.22" width="7.15" height="7.17" fill="#f4d693"/>
<rect x="1669.90" y="522.22" width="7.15" height="7.17" fill="#f3d288"/>
<rect x="1676.75" y="522.22" width="7.15" height="7.17" fill="#f5da9d"/>
<rect x="1683.60" y="522.22" width="7.15" height="7.17" fill="#fefaf2"/>
<rect x="1649.35" y="515.35" width="7.15" height="7.17" fill="#fefbf4"/>
<rect x="1656.20" y="515.35" width="7.15" height="7.17" fill="#fcf3df"/>
<rect x="1663.05" y="515.35" width="7.15" height="7.17" fill="#f8e6bc"/>
<rect x="1669.90" y="515.35" width="7.15" height="7.17" fill="#f5d897"/>
<rect x="1676.75" y="515.35" width="7.15" height="7.17" fill="#f3d287"/>
<rect x="1683.60" y="515.35" width="7.15" height="7.17" fill="#f8e3b5"/>
<rect x="1690.45" y="515.35" width="7.15" height="7.17" fill="#fcf5e3"/>
<rect x="1656.20" y="508.48" width="7.15" height="7.17" fill="#fefbf6"/>
<rect x="1663.05" y="508.48" width="7.15" height="7.17" fill="#fcf4e3"/>
<rect x="1669.90" y="508.48" width="7.15" height="7.17" fill="#f9e8c2"/>
<rect x="1676.75" y="508.48" width="7.15" height="7.17" fill="#f5da9c"/>
<rect x="1683.60" y="508.48" width="7.15" height="7.17" fill="#f3d288"/>
<rect x="1690.45" y="508.48" width="7.15" height="7.17" fill="#f2ce7d"/>
<rect x="1697.30" y="508.48" width="7.15" height="7.17" fill="#fbf1da"/>
<rect x="1663.05" y="501.61" width="7.15" height="7.17" fill="#fefcf7"/>
<rect x="1669.90" y="501.61" width="7.15" height="7.17" fill="#fdf6e7"/>
<rect x="1676.75" y="501.61" width="7.15" height="7.17" fill="#faeac7"/>
<rect x="1683.60" y="501.61" width="7.15" height="7.17" fill="#faeac7"/>
<rect x="1690.45" y="501.61" width="7.15" height="7.17" fill="#eebc4e"/>
<rect x="1697.30" y="501.61" width="7.15" height="7.17" fill="#f1c86d"/>
<rect x="1704.15" y="501.61" width="7.15" height="7.17" fill="#faedcf"/>
<rect x="1669.90" y="494.74" width="7.15" height="7.17" fill="#fefdf8"/>
<rect x="1676.75" y="494.74" width="7.15" height="7.17" fill="#fdf7ea"/>
<rect x="1683.60" y="494.74" width="7.15" height="7.17" fill="#fefcf7"/>
<rect x="1690.45" y="494.74" width="7.15" height="7.17" fill="#f8e5b9"/>
<rect x="1697.30" y="494.74" width="7.15" height="7.17" fill="#efc058"/>
<rect x="1704.15" y="494.74" width="7.15" height="7.17" fill="#efc35f"/>
<rect x="1676.75" y="487.87" width="7.15" height="7.17" fill="#fefdfa"/>
<rect x="1690.45" y="487.87" width="7.15" height="7.17" fill="#fefcf7"/>
<rect x="1697.30" y="487.87" width="7.15" height="7.17" fill="#faeac7"/>
<rect x="1704.15" y="487.87" width="7.15" height="7.17" fill="#f0c565"/>
<rect x="1697.30" y="481.00" width="7.15" height="7.17" fill="#fefdfa"/>
<rect x="1704.15" y="481.00" width="7.15" height="7.17" fill="#fbefd4"/>
<rect x="1437.0" y="481.0" width="274.0" height="274.8" fill="none" stroke="#111" stroke-width="1.7"/>
<line x1="1424.0" y1="332.2" x2="1428.5" y2="332.2" stroke="#111" stroke-width="1.5"/>
<text x="1421.0" y="344.2" font-size="33" text-anchor="end" >0</text>
<line x1="1424.0" y1="194.8" x2="1428.5" y2="194.8" stroke="#111" stroke-width="1.5"/>
<text x="1421.0" y="206.8" font-size="33" text-anchor="end" >1.5</text>
<line x1="1424.0" y1="57.5" x2="1428.5" y2="57.5" stroke="#111" stroke-width="1.5"/>
<text x="1421.0" y="69.5" font-size="33" text-anchor="end" >3</text>
<line x1="1428.5" y1="332.2" x2="1428.5" y2="336.7" stroke="#111" stroke-width="1.5"/>
<text x="1428.5" y="364.2" font-size="33" text-anchor="middle" >0</text>
<line x1="1565.5" y1="332.2" x2="1565.5" y2="336.7" stroke="#111" stroke-width="1.5"/>
<text x="1565.5" y="364.2" font-size="33" text-anchor="middle" >1.5</text>
<line x1="1702.4" y1="332.2" x2="1702.4" y2="336.7" stroke="#111" stroke-width="1.5"/>
<text x="1702.4" y="364.2" font-size="33" text-anchor="middle" >3</text>
<line x1="1432.5" y1="755.8" x2="1437.0" y2="755.8" stroke="#111" stroke-width="1.5"/>
<text x="1429.5" y="767.8" font-size="33" text-anchor="end" >0</text>
<line x1="1432.5" y1="618.4" x2="1437.0" y2="618.4" stroke="#111" stroke-width="1.5"/>
<text x="1429.5" y="630.4" font-size="33" text-anchor="end" >1</text>
<line x1="1432.5" y1="481.0" x2="1437.0" y2="481.0" stroke="#111" stroke-width="1.5"/>
<text x="1429.5" y="493.0" font-size="33" text-anchor="end" >2</text>
<line x1="1437.0" y1="755.8" x2="1437.0" y2="760.3" stroke="#111" stroke-width="1.5"/>
<text x="1437.0" y="787.8" font-size="33" text-anchor="middle" >0</text>
<line x1="1574.0" y1="755.8" x2="1574.0" y2="760.3" stroke="#111" stroke-width="1.5"/>
<text x="1574.0" y="787.8" font-size="33" text-anchor="middle" >1</text>
<line x1="1711.0" y1="755.8" x2="1711.0" y2="760.3" stroke="#111" stroke-width="1.5"/>
<text x="1711.0" y="787.8" font-size="33" text-anchor="middle" >2</text>
<text x="1517.0" y="406.3" font-size="45.5"><tspan font-style="italic">K</tspan><tspan font-size="31.5" dx="-2.5" dy="6.5">pred</tspan></text>
<text x="1348.6" y="245.5" font-size="50" transform="rotate(-90 1348.6 245.5)"><tspan font-style="italic">K</tspan><tspan font-size="35" dx="0" dy="8.5">true</tspan></text>
<text x="1515.5" y="827.0" font-size="51"><tspan font-style="italic">α</tspan><tspan font-size="37.5" dx="0" dy="8.0">pred</tspan></text>
<text x="1378.5" y="676.0" font-size="53" transform="rotate(-90 1378.5 676.0)"><tspan font-style="italic">α</tspan><tspan font-size="38.5" dx="0" dy="8.0">true</tspan></text>
<rect x="1442.5" y="890.5" width="68.5" height="68.5" fill="#9c70ae"/>
<rect x="1511.0" y="890.5" width="68.5" height="68.5" fill="#ffffff"/>
<rect x="1579.5" y="890.5" width="68.5" height="68.5" fill="#ffffff"/>
<rect x="1648.0" y="890.5" width="68.5" height="68.5" fill="#ffffff"/>
<rect x="1442.5" y="959.0" width="68.5" height="68.5" fill="#fcfcfc"/>
<rect x="1511.0" y="959.0" width="68.5" height="68.5" fill="#a27ab4"/>
<rect x="1579.5" y="959.0" width="68.5" height="68.5" fill="#f4f4f4"/>
<rect x="1648.0" y="959.0" width="68.5" height="68.5" fill="#fcfcfc"/>
<rect x="1442.5" y="1027.5" width="68.5" height="68.5" fill="#fcfcfc"/>
<rect x="1511.0" y="1027.5" width="68.5" height="68.5" fill="#f8f2f8"/>
<rect x="1579.5" y="1027.5" width="68.5" height="68.5" fill="#ad87be"/>
<rect x="1648.0" y="1027.5" width="68.5" height="68.5" fill="#f3f3f7"/>
<rect x="1442.5" y="1096.0" width="68.5" height="68.5" fill="#ffffff"/>
<rect x="1511.0" y="1096.0" width="68.5" height="68.5" fill="#fcfcfc"/>
<rect x="1579.5" y="1096.0" width="68.5" height="68.5" fill="#f7f7f7"/>
<rect x="1648.0" y="1096.0" width="68.5" height="68.5" fill="#a076b2"/>
<text x="1476.8" y="932.6" font-size="27.5" text-anchor="middle" fill="#fdf0fd">100</text>
<text x="1545.2" y="932.6" font-size="27.5" text-anchor="middle" fill="#111">0</text>
<text x="1613.8" y="932.6" font-size="27.5" text-anchor="middle" fill="#111">0</text>
<text x="1682.2" y="932.6" font-size="27.5" text-anchor="middle" fill="#111">0</text>
<text x="1476.8" y="1001.1" font-size="27.5" text-anchor="middle" fill="#111">1</text>
<text x="1545.2" y="1001.1" font-size="27.5" text-anchor="middle" fill="#fdf0fd">91</text>
<text x="1613.8" y="1001.1" font-size="27.5" text-anchor="middle" fill="#111">7</text>
<text x="1682.2" y="1001.1" font-size="27.5" text-anchor="middle" fill="#111">1</text>
<text x="1476.8" y="1069.7" font-size="27.5" text-anchor="middle" fill="#111">1</text>
<text x="1545.2" y="1069.7" font-size="27.5" text-anchor="middle" fill="#111">8</text>
<text x="1613.8" y="1069.7" font-size="27.5" text-anchor="middle" fill="#fdf0fd">82</text>
<text x="1682.2" y="1069.7" font-size="27.5" text-anchor="middle" fill="#111">9</text>
<text x="1476.8" y="1138.2" font-size="27.5" text-anchor="middle" fill="#111">0</text>
<text x="1545.2" y="1138.2" font-size="27.5" text-anchor="middle" fill="#111">1</text>
<text x="1613.8" y="1138.2" font-size="27.5" text-anchor="middle" fill="#111">5</text>
<text x="1682.2" y="1138.2" font-size="27.5" text-anchor="middle" fill="#fdf0fd">94</text>
<line x1="1442.5" y1="890.5" x2="1716.5" y2="890.5" stroke="#111" stroke-width="2.4"/>
<line x1="1442.5" y1="890.5" x2="1442.5" y2="1164.5" stroke="#111" stroke-width="2.4"/>
<line x1="1442.5" y1="959.0" x2="1716.5" y2="959.0" stroke="#111" stroke-width="2.4"/>
<line x1="1511.0" y1="890.5" x2="1511.0" y2="1164.5" stroke="#111" stroke-width="2.4"/>
<line x1="1442.5" y1="1027.5" x2="1716.5" y2="1027.5" stroke="#111" stroke-width="2.4"/>
<line x1="1579.5" y1="890.5" x2="1579.5" y2="1164.5" stroke="#111" stroke-width="2.4"/>
<line x1="1442.5" y1="1096.0" x2="1716.5" y2="1096.0" stroke="#111" stroke-width="2.4"/>
<line x1="1648.0" y1="890.5" x2="1648.0" y2="1164.5" stroke="#111" stroke-width="2.4"/>
<line x1="1442.5" y1="1164.5" x2="1716.5" y2="1164.5" stroke="#111" stroke-width="2.4"/>
<line x1="1716.5" y1="890.5" x2="1716.5" y2="1164.5" stroke="#111" stroke-width="2.4"/>
<line x1="1437.5" y1="924.8" x2="1442.5" y2="924.8" stroke="#111" stroke-width="1.5"/>
<text x="1434.7" y="932.6" font-size="27.5" text-anchor="end" >imm.</text>
<line x1="1476.8" y1="1164.5" x2="1476.8" y2="1169.5" stroke="#111" stroke-width="1.5"/>
<text x="1476.8" y="1192.8" font-size="27.5" text-anchor="middle" >imm.</text>
<line x1="1437.5" y1="993.2" x2="1442.5" y2="993.2" stroke="#111" stroke-width="1.5"/>
<text x="1434.7" y="1001.1" font-size="27.5" text-anchor="end" >conf.</text>
<line x1="1545.2" y1="1164.5" x2="1545.2" y2="1169.5" stroke="#111" stroke-width="1.5"/>
<text x="1545.2" y="1192.8" font-size="27.5" text-anchor="middle" >conf.</text>
<line x1="1437.5" y1="1061.8" x2="1442.5" y2="1061.8" stroke="#111" stroke-width="1.5"/>
<text x="1434.7" y="1069.7" font-size="27.5" text-anchor="end" >free</text>
<line x1="1613.8" y1="1164.5" x2="1613.8" y2="1169.5" stroke="#111" stroke-width="1.5"/>
<text x="1613.8" y="1192.8" font-size="27.5" text-anchor="middle" >free</text>
<line x1="1437.5" y1="1130.2" x2="1442.5" y2="1130.2" stroke="#111" stroke-width="1.5"/>
<text x="1434.7" y="1138.2" font-size="27.5" text-anchor="end" >dir.</text>
<line x1="1682.2" y1="1164.5" x2="1682.2" y2="1169.5" stroke="#111" stroke-width="1.5"/>
<text x="1682.2" y="1192.8" font-size="27.5" text-anchor="middle" >dir.</text>
<text x="1579.2" y="1240.2" font-size="33.5" text-anchor="middle" >Predicted</text>
<text x="1356.8" y="1027.2" font-size="33.7" text-anchor="middle" transform="rotate(-90 1356.8 1027.2)">Ground Truth</text>
<polyline points="68.0,181.7 56.6,136.1 95.1,134.2 93.0,113.3 111.4,106.3 130.7,153.6 114.9,141.4 134.6,125.6 146.0,92.3 120.1,99.7 57.0,133.5" fill="none" stroke="#1f77b4" stroke-width="1.5" stroke-linejoin="round" stroke-linecap="round"/>
<polyline points="111.4,106.3 102.6,121.2 98.7,148.4 130.7,153.6 152.6,157.1 184.1,176.4" fill="none" stroke="#1f77b4" stroke-width="1.5" stroke-linejoin="round" stroke-linecap="round"/>
<polyline points="103.5,122.1 113.1,127.3 134.2,126.5 155.2,127.8 171.0,123.8 189.4,128.2 166.6,127.3 155.2,127.8" fill="none" stroke="#1f77b4" stroke-width="1.5" stroke-linejoin="round" stroke-linecap="round"/>
<polyline points="109.6,118.6 134.6,125.6" fill="none" stroke="#1f77b4" stroke-width="1.5" stroke-linejoin="round" stroke-linecap="round"/>
<polyline points="132.4,134.4 160.5,125.6" fill="none" stroke="#1f77b4" stroke-width="1.5" stroke-linejoin="round" stroke-linecap="round"/>
<polyline points="132.4,134.4 175.4,147.9" fill="none" stroke="#1f77b4" stroke-width="1.5" stroke-linejoin="round" stroke-linecap="round"/>
<polyline points="167.4,89.3 203.6,88.4 239.8,90.3 263.0,82.8 289.9,73.6 310.3,108.8 265.8,97.7 282.4,98.6" fill="none" stroke="#1f77b4" stroke-width="1.5" stroke-linejoin="round" stroke-linecap="round"/>
<polyline points="167.4,89.3 217.5,106.9 232.4,103.2" fill="none" stroke="#1f77b4" stroke-width="1.5" stroke-linejoin="round" stroke-linecap="round"/>
<polyline points="203.6,70.3 193.4,108.8 201.7,119.0 220.3,110.7" fill="none" stroke="#1f77b4" stroke-width="1.5" stroke-linejoin="round" stroke-linecap="round"/>
<polyline points="260.6,57.3 246.3,76.3 263.0,82.8 280.6,90.3" fill="none" stroke="#1f77b4" stroke-width="1.5" stroke-linejoin="round" stroke-linecap="round"/>
<polyline points="260.6,57.3 247.2,96.7 239.8,103.2" fill="none" stroke="#1f77b4" stroke-width="1.5" stroke-linejoin="round" stroke-linecap="round"/>
<polyline points="221.2,84.7 240.7,114.4" fill="none" stroke="#1f77b4" stroke-width="1.5" stroke-linejoin="round" stroke-linecap="round"/>
<polyline points="258.3,98.6 247.2,109.7" fill="none" stroke="#1f77b4" stroke-width="1.5" stroke-linejoin="round" stroke-linecap="round"/>
<polyline points="261.1,108.8 289.9,107.9 269.5,114.4" fill="none" stroke="#1f77b4" stroke-width="1.5" stroke-linejoin="round" stroke-linecap="round"/>
<polyline points="282.4,141.3 307.5,126.9 276.0,123.6 280.6,115.3" fill="none" stroke="#1f77b4" stroke-width="1.5" stroke-linejoin="round" stroke-linecap="round"/>
<polyline points="194.3,152.4 215.7,138.5" fill="none" stroke="#1f77b4" stroke-width="1.5" stroke-linejoin="round" stroke-linecap="round"/>
<polyline points="204.5,156.1 257.4,150.5 234.2,147.8" fill="none" stroke="#1f77b4" stroke-width="1.5" stroke-linejoin="round" stroke-linecap="round"/>
<polyline points="213.8,104.2 212.9,129.2 209.2,132.0" fill="none" stroke="#1f77b4" stroke-width="1.5" stroke-linejoin="round" stroke-linecap="round"/>
<polyline points="219.4,96.7 252.8,106.9 276.0,121.8" fill="none" stroke="#1f77b4" stroke-width="1.5" stroke-linejoin="round" stroke-linecap="round"/>
<polyline points="270.4,166.3 262.0,138.5" fill="none" stroke="#1f77b4" stroke-width="1.5" stroke-linejoin="round" stroke-linecap="round"/>
<polyline points="143.5,199.9 194.3,246.4 201.3,232.4 155.7,232.4 241.6,230.6" fill="none" stroke="#1f77b4" stroke-width="1.5" stroke-linejoin="round" stroke-linecap="round"/>
<polyline points="241.6,254.3 292.5,237.6 287.2,225.3 255.7,218.3 287.2,207.8 268.0,200.8" fill="none" stroke="#1f77b4" stroke-width="1.5" stroke-linejoin="round" stroke-linecap="round"/>
<polyline points="282.0,165.7 285.5,185.0 294.3,173.6 268.0,190.3" fill="none" stroke="#1f77b4" stroke-width="1.5" stroke-linejoin="round" stroke-linecap="round"/>
<polyline points="159.2,176.2 215.3,179.8 253.9,171.0" fill="none" stroke="#1f77b4" stroke-width="1.5" stroke-linejoin="round" stroke-linecap="round"/>
<polyline points="238.9,132.5 240.3,139.1 229.5,148.0 251.2,123.5 260.0,116.4 254.4,120.9 216.3,137.2 236.3,124.7 227.6,166.3 226.9,161.1 241.5,142.1 254.9,138.6 249.5,128.5 223.1,120.6 234.7,110.2 235.7,138.8 235.7,140.6 247.8,127.4 245.2,146.1 227.1,131.4 222.7,138.8 252.2,147.2 237.9,125.0 213.0,154.8 235.4,152.0 247.9,136.7 216.9,141.7 235.7,120.1 259.1,109.6 260.7,136.7 263.8,135.1 253.8,152.5 236.6,157.1 274.7,151.1 232.0,153.6 256.1,120.7 238.1,175.0 251.8,154.4 222.5,143.6 250.2,124.7 246.4,123.1 263.8,106.5 255.1,111.8 214.9,128.0 242.2,116.1 217.7,154.1 258.8,152.3 239.1,132.5 210.0,130.2 239.2,128.3 241.6,121.5 235.9,115.7 233.2,137.9 254.6,124.4 227.5,129.4 262.1,121.5 230.9,144.8 238.1,143.0 269.7,133.7 281.9,134.1 242.1,135.6 253.3,113.8 251.3,120.8 244.4,121.1 238.9,127.8 250.0,125.5 253.1,116.7 274.9,102.6 252.1,129.8 239.7,122.8 233.8,129.0 285.7,139.8 241.4,145.5 246.6,131.9 233.2,130.8 247.1,135.3 278.6,105.4 249.6,129.4 242.7,135.2 205.4,168.1 251.7,149.4 238.5,130.8 243.2,108.1 220.1,145.1 224.1,135.5 271.5,151.4 281.3,144.8 279.5,146.9 251.5,124.7 242.8,129.8 253.9,122.5 234.8,114.2 257.6,118.2 298.5,111.1 280.9,118.1 255.0,118.8 246.5,118.9 232.5,159.8 255.1,148.0 243.2,165.8 256.6,125.6 277.5,125.1 265.1,142.4 251.7,112.6 221.7,118.3 250.6,119.3 206.1,133.9 231.2,141.3 241.3,128.4 272.3,126.9 260.9,103.6 232.7,203.4 209.5,220.1 215.1,214.5 243.9,205.6 184.2,199.3 163.2,214.9 195.9,200.4 205.8,215.7 212.5,231.0 213.0,234.2 244.2,244.7 216.7,238.6 179.0,204.9 158.4,221.6 162.7,213.1 185.5,208.6 189.0,210.4 238.2,208.4 237.7,222.3 222.9,194.0 208.4,216.2 179.4,201.3 217.8,215.5 217.0,222.8 219.8,195.5 186.8,190.3 219.8,188.8 199.9,184.9 177.4,193.1 173.2,204.7 147.6,210.0 169.0,177.2 206.9,186.8 167.1,182.3 197.3,186.5 222.2,207.4 232.4,211.3 250.8,218.4 242.4,179.2 247.0,212.5 225.6,201.4 259.5,175.8 247.1,228.2 213.1,227.3 252.1,214.3 245.2,223.7 212.6,213.0 220.1,221.9 217.4,210.4 196.4,202.1 224.0,205.1 203.0,191.9 262.6,216.2 252.0,170.2 246.4,195.1 264.7,206.7 239.0,214.0 188.8,225.6 208.9,204.4 238.8,232.9 199.5,208.6 213.5,209.6 206.8,192.1 253.7,214.7 211.0,188.9 247.4,212.4 268.0,221.3 224.6,217.2 177.3,199.4 195.5,210.4 191.2,205.8 212.8,211.2 227.1,211.4 215.1,220.5 216.5,199.9 203.8,202.4 207.7,206.2 211.8,208.3 211.2,187.0 222.0,212.4 227.7,205.8 230.7,190.3 185.6,198.6 182.3,213.3 177.5,168.2 176.1,211.2 188.4,186.8 187.0,204.0 211.4,207.3 243.3,217.1 229.2,220.4 255.6,227.8 256.2,199.5 233.1,213.6 218.7,226.0 229.2,229.7 218.4,257.0 241.9,227.7 230.7,256.8 216.5,244.5 235.8,224.9 202.7,217.9 216.5,229.0 231.8,217.4 240.9,219.6 232.6,213.2 219.4,219.8 196.7,202.6 206.5,181.0 202.5,161.7 195.7,192.2 217.1,197.7 211.9,179.3 250.4,200.2 255.0,188.8 231.8,168.6 239.4,201.4 189.9,202.4 215.5,176.2 179.4,174.0 185.2,167.6 201.2,190.2 221.2,208.5 248.5,224.9 206.1,207.1 190.0,189.3 201.4,197.2 218.4,176.4 192.6,190.3 200.3,192.8 206.9,187.1" fill="none" stroke="#1f77b4" stroke-width="1.5" stroke-linejoin="round" stroke-linecap="round"/>
<polyline points="186.4,380.5 193.3,376.7 193.1,379.4 190.4,386.1 187.3,389.9 175.5,393.3 169.1,392.2 168.2,379.9 181.2,380.3 185.4,387.7 186.1,379.1 186.5,387.2 182.7,370.0 186.3,371.4 172.0,386.6 178.2,378.3 186.5,377.0 185.8,379.1 173.8,379.3 175.8,379.3 174.9,373.3 170.8,378.8 168.4,376.5 182.7,381.5 179.5,385.4 190.5,382.6 189.3,381.0 183.6,388.6 176.9,383.5 185.2,383.4 180.3,378.6 181.2,383.2 178.0,382.9 184.7,380.2 177.8,382.7 176.4,380.8 180.5,373.4 178.6,382.5 176.8,378.0 182.9,385.1 186.8,385.7 166.5,382.8 173.8,380.3 177.9,387.4 190.9,388.7 186.9,393.5 179.6,389.5 173.2,381.4 176.5,380.5 182.8,384.8 186.7,378.8 183.1,378.5 183.3,383.3 181.4,383.5 168.4,383.1 167.4,365.9 173.6,371.4 164.7,379.3 168.6,375.7 168.1,382.3 167.1,387.4 177.6,380.8 171.2,389.0 178.8,383.9 177.9,378.9 191.3,374.3 185.9,385.9 187.8,385.3 187.7,393.2 190.0,388.9 183.6,388.9 182.3,383.7 175.1,395.0 175.2,380.9 178.6,381.0 178.2,384.5 181.1,378.3 166.4,371.8 173.4,377.7 178.6,375.3 180.8,385.9 179.8,376.3 171.1,378.4 167.0,374.4 172.5,387.2 185.4,386.2 182.5,379.9 185.3,383.3 175.1,388.7 185.0,386.6 182.5,384.4 220.3,401.0 225.4,400.0 239.9,410.8 224.3,400.5 206.5,405.8 217.8,400.9 208.4,390.5 239.7,385.3 240.7,395.6 240.9,403.0 247.0,395.9 244.1,390.7 231.8,398.5 237.6,393.0 231.1,401.6 216.5,397.8 236.2,384.0 241.2,404.4 245.2,397.4 240.7,399.8 249.6,401.5 229.2,409.0 238.9,403.7 228.2,387.3 222.9,387.7 195.1,383.8 208.5,388.2 204.7,394.4 214.9,398.9 199.9,400.6 244.1,397.4 249.7,396.2 239.9,385.8 232.8,390.9 227.7,398.1 218.4,395.0 226.9,397.4 228.8,383.5 229.7,376.7 225.8,373.2 233.7,393.8 234.0,386.6 237.6,397.2 220.2,396.9 223.5,394.2 212.2,396.2 205.0,390.0 221.2,398.8 226.2,389.9 224.8,385.5 231.5,379.3 247.8,394.6 244.9,390.9 239.2,399.8 252.8,393.4 233.0,398.2 224.9,390.5 212.5,400.9 223.7,410.4 239.6,399.3 222.2,399.5 216.5,400.9 223.8,384.8 241.0,385.9 236.7,398.0 240.0,398.7 218.3,398.1 222.5,389.5 222.0,402.4 202.8,398.8 228.6,392.6 226.3,391.8 228.5,403.1 227.0,399.1 238.8,402.5 219.1,401.5 230.2,407.3 226.2,402.5 228.0,396.5 221.3,394.5 216.1,394.4 234.7,406.6 223.6,415.2 234.4,396.5 207.5,396.1 223.4,394.2 205.6,406.5 218.8,395.3 201.1,395.7 215.2,403.5 222.7,408.5 205.4,397.3 224.5,389.2 228.9,384.9 215.6,378.3 226.8,398.2 252.2,404.3 233.4,383.7 231.8,389.2 230.0,393.8 211.2,397.8 219.3,393.1 247.0,385.5 234.7,396.3 259.0,395.1 242.6,396.3 245.3,394.7 231.1,401.5 213.6,391.9 213.6,389.7 228.2,381.6" fill="none" stroke="#1f77b4" stroke-width="1.5" stroke-linejoin="round" stroke-linecap="round"/>
<polyline points="273.7,478.1 249.2,477.3 230.8,481.6 211.5,447.5 204.5,488.7 205.3,456.2 180.8,454.5 166.8,470.3 180.8,453.6 135.2,448.3 154.5,459.7 189.6,446.6 133.5,438.7 115.9,455.3 135.2,446.6 168.5,410.6 175.5,418.5 170.3,392.2 161.5,349.3 90.5,347.5 76.5,368.5 105.4,339.6 104.5,305.4 102.8,290.5 82.6,297.5 49.3,301.4 151.0,307.2 177.3,339.6 190.4,351.0 196.6,330.0 231.6,369.4 152.7,361.5 166.8,392.2 222.9,342.2 309.7,391.3 252.7,397.5 179.0,378.2 158.0,375.6 127.3,386.1 68.6,378.2 45.8,357.2 68.6,379.1 144.0,371.2 158.0,375.6" fill="none" stroke="#d62728" stroke-width="1.5" stroke-linejoin="round" stroke-linecap="round"/>
<polyline points="82.1,593.9 153.1,571.1 159.2,552.7 168.9,524.6" fill="none" stroke="#1f77b4" stroke-width="1.5" stroke-linejoin="round" stroke-linecap="round"/>
<polyline points="159.2,552.7 189.0,559.7 230.3,555.3 273.2,572.9 301.3,574.6 245.2,575.5 183.8,576.4 189.0,559.7 217.1,550.9 225.9,557.1 218.9,564.1 194.3,558.8" fill="none" stroke="#1f77b4" stroke-width="1.5" stroke-linejoin="round" stroke-linecap="round"/>
<polyline points="153.1,571.1 203.1,595.7 243.4,637.7 228.5,672.8 310.9,687.7 309.2,639.5 173.3,669.3 101.4,699.1 135.6,721.9 168.0,679.8 145.2,663.2 192.6,690.3 173.3,669.3 255.7,686.8 231.1,721.9 162.7,671.1 152.2,651.8" fill="none" stroke="#1f77b4" stroke-width="1.5" stroke-linejoin="round" stroke-linecap="round"/>
<polyline points="74.4,593.9 80.5,589.8 78.6,587.9 85.2,592.0 90.1,592.6 86.7,593.4 78.1,594.6 70.7,594.2 78.8,594.9 76.2,599.6 77.7,596.3 79.1,594.7 76.4,594.3 89.8,594.8 85.2,596.5 94.1,595.4 82.5,600.5 71.7,597.1 79.1,601.0 73.1,593.1 79.8,593.1 76.8,595.2 79.0,595.8 76.1,598.2 86.4,596.8 79.7,597.6 82.0,594.3 77.5,597.0 77.4,595.5 79.2,595.3 78.9,591.3 89.3,593.7 78.6,596.5 80.4,596.0 85.8,600.3 85.5,601.1 95.1,596.1 83.6,597.3 70.7,595.7 82.4,597.7 84.0,592.6 95.5,595.1 91.6,596.2 74.7,592.8 69.2,598.0" fill="none" stroke="#d62728" stroke-width="1.8" stroke-linejoin="round" stroke-linecap="round"/>
<polyline points="149.0,649.4 149.0,650.8 151.2,650.8 147.0,643.4 149.3,647.1 153.6,648.2 150.2,649.8 145.6,647.5 145.0,649.2 154.1,651.1 155.7,650.9 153.9,649.3 151.4,644.2 147.3,644.2 151.4,648.3 154.4,652.4 151.5,653.3 156.9,651.5 157.0,650.2 148.8,650.2 147.2,650.2 147.4,650.6 142.5,654.7 150.6,651.4 147.8,650.5 151.2,651.0 152.0,646.1 147.8,650.8 149.9,646.9 147.5,645.2 145.9,650.0 147.5,652.3 149.6,647.7 148.0,653.7 146.9,649.4 152.5,649.7" fill="none" stroke="#d62728" stroke-width="1.8" stroke-linejoin="round" stroke-linecap="round"/>
<polyline points="111.0,757.7 103.3,773.0 93.7,809.3" fill="none" stroke="#1f77b4" stroke-width="1.5" stroke-linejoin="round" stroke-linecap="round"/>
<polyline points="93.7,811.2 142.5,828.4 168.3,832.3 191.3,857.1 225.7,847.6 261.1,841.8 299.4,876.3 309.9,860.0 225.7,847.6 238.2,886.8 226.7,945.1 239.1,950.9 244.9,984.3 207.6,962.3 225.7,945.1" fill="none" stroke="#1f77b4" stroke-width="1.5" stroke-linejoin="round" stroke-linecap="round"/>
<polyline points="93.7,813.1 127.2,838.0 110.0,848.5 162.6,880.1 212.3,904.0 218.1,942.3" fill="none" stroke="#1f77b4" stroke-width="1.5" stroke-linejoin="round" stroke-linecap="round"/>
<polyline points="162.6,880.1 141.6,885.8 155.0,887.7 111.0,918.3 44.0,900.2 7.7,928.9 32.5,937.5 99.5,943.2 68.9,925.0 103.3,924.1 111.0,918.3" fill="none" stroke="#1f77b4" stroke-width="1.5" stroke-linejoin="round" stroke-linecap="round"/>
<polyline points="133.9,918.3 145.4,916.4 174.1,931.7 166.4,916.4 143.5,956.6 174.1,932.7 188.4,918.3 174.1,932.7 218.1,942.3 194.2,928.9 243.9,915.5 282.2,926.0 183.7,933.7" fill="none" stroke="#1f77b4" stroke-width="1.5" stroke-linejoin="round" stroke-linecap="round"/>
<polyline points="36.3,805.5 45.9,801.7 52.6,790.2 68.9,794.0 80.3,811.2 93.7,811.2 109.0,849.5 141.6,848.5 155.0,847.6" fill="none" stroke="#d62728" stroke-width="1.5" stroke-linejoin="round" stroke-linecap="round"/>
<polyline points="41.8,805.9 39.4,806.6 39.9,805.6 45.6,805.5 43.5,806.1 45.5,805.6 45.1,804.2 42.5,804.2 38.7,802.9 36.1,803.7 38.5,804.1 40.3,803.1 40.8,804.4 43.1,803.8 41.4,802.2 40.3,801.2 37.4,804.4 34.0,805.6 38.7,805.0 41.4,805.6 44.2,805.1 41.4,804.4 39.1,804.7 38.4,806.1 35.4,804.4 36.1,802.4 43.7,801.0" fill="none" stroke="#d62728" stroke-width="2.0" stroke-linejoin="round" stroke-linecap="round"/>
<polyline points="59.7,792.0 66.0,789.3 67.0,789.8 63.1,790.2 64.0,789.6 61.8,791.6 67.7,788.5 69.6,791.9 63.1,792.6 60.0,795.0 60.9,793.4 59.7,792.6 59.4,791.3 67.3,789.1 50.7,790.6 54.9,792.1 56.9,792.1 59.8,793.7 58.4,792.5 66.4,793.3 59.7,796.3 62.8,793.5 57.3,793.4 55.7,791.4 53.3,791.2 60.8,791.2 55.3,792.8 58.0,793.9 63.5,792.9 61.4,792.6 56.7,793.5" fill="none" stroke="#d62728" stroke-width="2.0" stroke-linejoin="round" stroke-linecap="round"/>
<polyline points="94.3,811.4 91.6,810.9 87.8,809.6 87.6,809.0 87.3,807.4 90.6,809.4 85.8,806.3 88.3,810.7 86.4,810.1 86.2,811.8 84.6,813.2 86.4,813.8 88.8,812.1 83.4,810.5 86.0,812.0 89.5,810.4 92.0,812.5 90.8,811.1 89.1,812.6 92.3,810.3 93.2,809.9 88.8,812.7 93.4,810.7 92.5,811.8 88.9,811.3 92.8,808.2 93.2,811.0 94.2,808.8 93.9,808.5 94.9,810.9 93.8,809.7 89.8,812.0 86.4,812.4 90.9,811.3 101.2,811.4 105.3,807.8 88.4,811.2 92.4,810.7 91.4,807.7 88.4,807.6 88.7,811.0" fill="none" stroke="#d62728" stroke-width="2.0" stroke-linejoin="round" stroke-linecap="round"/>
<polyline points="147.4,848.4 145.2,847.8 146.6,847.6 150.9,846.9 155.0,846.4 154.5,846.4 156.0,847.4 152.9,848.6 148.1,847.2 141.4,849.0 142.2,847.9 144.6,850.3 140.6,849.5 142.7,849.4 139.4,848.3 146.0,850.0 151.6,848.1 149.6,848.0 144.2,846.4 148.1,847.6 147.3,849.2 144.2,849.3 145.8,848.6 148.1,848.6 148.5,848.7" fill="none" stroke="#d62728" stroke-width="2.0" stroke-linejoin="round" stroke-linecap="round"/>
<polyline points="198.1,857.8 199.6,858.9 195.7,859.8 192.0,860.9 190.3,858.7 193.3,859.7 196.9,860.4 194.8,857.7 196.4,858.4 192.0,859.8 193.8,857.4 195.5,855.6 191.8,857.5 187.6,857.8 186.2,859.2 187.7,858.9 185.7,857.9 193.2,858.8 187.3,859.9 193.8,858.4 198.9,856.5 196.2,859.1 199.8,860.7 193.2,856.5 195.0,854.9 194.1,854.4 197.8,857.6 197.9,857.9 196.2,857.5 196.5,858.2 196.9,857.4" fill="none" stroke="#d62728" stroke-width="2.0" stroke-linejoin="round" stroke-linecap="round"/>
<polyline points="143.6,1069.6 165.6,1064.1 194.0,1116.3 203.2,1075.1 211.4,1090.6 258.2,1068.6 247.2,1080.6 260.0,1082.4 268.2,1085.1 263.7,1107.1 270.1,1096.1 309.5,1088.8 273.7,1114.5 299.4,1146.5 310.4,1157.5 292.1,1159.4 300.3,1146.5 271.0,1162.1 270.1,1192.3 293.9,1223.5" fill="none" stroke="#1f77b4" stroke-width="1.5" stroke-linejoin="round" stroke-linecap="round"/>
<polyline points="109.5,1092.4 92.0,1075.3 102.4,1102.4 109.5,1077.5 92.4,1078.4 113.4,1079.5 102.3,1077.2 105.2,1068.4 103.9,1077.5 132.7,1078.4 137.9,1065.2 139.0,1074.0 114.5,1076.8 125.8,1074.2 134.8,1098.7 151.0,1114.8 108.5,1106.4 93.6,1109.9 98.4,1101.8 108.2,1085.4 107.5,1073.8 143.0,1070.6 126.9,1050.1 90.4,1051.0 109.5,1074.2 111.6,1068.2 141.3,1059.2 110.2,1075.1 89.0,1081.6 111.8,1080.7 115.3,1081.7 97.9,1036.9 77.6,1054.8 57.7,1057.6 79.3,1086.2 63.7,1077.0 83.2,1086.4 65.8,1110.9 65.5,1114.7 76.5,1107.4 117.0,1107.2 113.5,1082.8 97.1,1062.1 135.8,1047.9 75.5,1084.9 109.4,1078.5 121.7,1068.1 103.4,1080.7 110.1,1074.6 136.4,1088.0 125.3,1068.7 118.5,1069.4 110.6,1085.8 96.7,1087.9 113.4,1090.5 150.7,1062.1 130.1,1053.0 117.6,1100.4 81.5,1088.7 101.6,1087.2 118.4,1062.8 129.6,1056.6 96.3,1074.7 107.2,1067.0 90.1,1070.0 94.6,1072.1 78.9,1042.7 112.0,1060.7 85.2,1046.5 79.1,1054.5 49.2,1085.3 77.9,1079.1 93.7,1083.2 116.2,1084.7 133.4,1105.4 114.9,1089.3 93.3,1082.7 83.3,1082.2 96.1,1089.5 77.0,1101.7 81.1,1091.8 79.7,1058.9 93.0,1042.4 116.5,1058.4 139.0,1076.8 136.7,1098.5 121.7,1113.6 111.2,1104.3 94.8,1102.7 109.6,1086.8 82.7,1084.0 97.8,1080.5 81.3,1070.3 84.3,1037.0 80.3,1075.2 65.1,1074.3 110.4,1087.1 123.5,1082.5 90.2,1123.1 100.1,1109.7 130.5,1109.8 119.8,1082.4 109.4,1079.7 93.6,1067.8 78.2,1071.3 76.5,1081.0 104.8,1085.4 103.6,1106.0 114.5,1074.7 95.9,1079.9 81.8,1091.2 57.3,1059.7 92.7,1076.4 66.6,1079.2 104.9,1063.9 81.5,1053.2 71.2,1039.3 74.1,1035.1 85.9,1085.4 72.6,1096.5 105.3,1057.1 105.5,1066.3 97.4,1083.5 90.7,1087.4 87.5,1082.8 78.4,1114.5 86.3,1084.9 127.8,1105.8 113.3,1086.3 94.7,1101.8 91.1,1083.1 110.4,1078.2 105.5,1107.0 119.4,1114.3 119.5,1119.3 108.9,1117.6 124.8,1096.9 91.6,1098.1 93.0,1099.8 85.0,1099.7 108.9,1126.0 138.3,1113.4 149.6,1091.3 151.5,1089.0 155.5,1090.5 129.4,1076.3 140.9,1078.9 137.9,1086.5 85.5,1092.8 84.8,1093.5 99.9,1062.5 94.4,1068.9 104.0,1087.1 90.2,1081.2 105.8,1054.7 137.7,1051.5 147.0,1065.2 162.9,1086.3 137.4,1059.7 125.1,1072.7 125.3,1057.8 100.3,1055.8 105.6,1053.2 101.4,1077.5 93.4,1098.0 101.7,1087.5 121.3,1091.8 107.8,1078.9 104.1,1084.5 123.6,1086.8 103.1,1065.3" fill="none" stroke="#d62728" stroke-width="1.5" stroke-linejoin="round" stroke-linecap="round"/>
<polyline points="138.1,1021.0 138.1,1041.2 147.3,1059.5 140.0,1068.6" fill="none" stroke="#d62728" stroke-width="1.5" stroke-linejoin="round" stroke-linecap="round"/>
<polyline points="85.0,1105.3 83.1,1131.9 105.1,1126.4 102.4,1112.6 110.6,1120.0 115.2,1117.8" fill="none" stroke="#d62728" stroke-width="1.5" stroke-linejoin="round" stroke-linecap="round"/>
</svg>
</body></html>
